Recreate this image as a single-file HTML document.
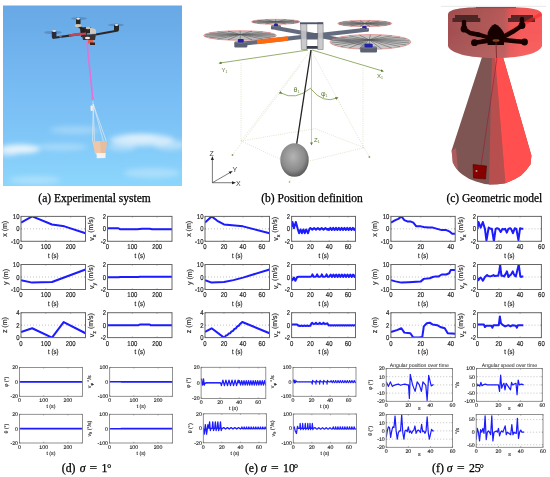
<!DOCTYPE html><html><head><meta charset="utf-8"><style>html,body{margin:0;padding:0;background:#fff;}svg{display:block} .tk{font-family:'Liberation Sans',Arial,sans-serif;fill:#222;stroke:#222;stroke-width:0.18px;text-rendering:geometricPrecision} .tk.s{stroke-width:0.12px} .cap{font-family:'Liberation Serif','Times New Roman',serif;fill:#000;stroke:#000;stroke-width:0.25px} .tt{font-family:'Liberation Sans',Arial,sans-serif;fill:#111;text-rendering:geometricPrecision}</style></head><body>
<svg width="550" height="477" viewBox="0 0 550 477">
<defs><filter id="gb" x="0" y="0" width="100%" height="100%"><feGaussianBlur stdDeviation="0.3"/></filter></defs>
<rect width="550" height="477" fill="#fff"/>
<g filter="url(#gb)">
<defs><linearGradient id="sky" x1="0" y1="0" x2="0" y2="1"><stop offset="0" stop-color="#68a8e6"/><stop offset="0.1" stop-color="#6aace8"/><stop offset="0.47" stop-color="#78bcf4"/><stop offset="0.63" stop-color="#7cc2f6"/><stop offset="0.85" stop-color="#86cefa"/><stop offset="1" stop-color="#8cd6fc"/></linearGradient><filter id="b2" x="-50%" y="-50%" width="200%" height="200%"><feGaussianBlur stdDeviation="2.5"/></filter><filter id="b1" x="-50%" y="-50%" width="200%" height="200%"><feGaussianBlur stdDeviation="0.6"/></filter><filter id="b05" x="-50%" y="-50%" width="200%" height="200%"><feGaussianBlur stdDeviation="0.35"/></filter><filter id="b4" x="-50%" y="-50%" width="200%" height="200%"><feGaussianBlur stdDeviation="4"/></filter><clipPath id="phc"><rect x="3" y="5.5" width="179" height="180.5"/></clipPath></defs>
<rect x="3" y="5.5" width="179" height="180.5" fill="url(#sky)"/>
<g clip-path="url(#phc)">
<g filter="url(#b2)" fill="#e8f4fc"><ellipse cx="20" cy="149" rx="20" ry="4.5" opacity="0.95"/><ellipse cx="22" cy="148" rx="12" ry="2.5" opacity="0.9"/><ellipse cx="8" cy="153" rx="10" ry="3" opacity="0.6"/><ellipse cx="62" cy="147" rx="26" ry="3.5" opacity="0.35"/><ellipse cx="142" cy="140" rx="32" ry="6" opacity="0.75"/><ellipse cx="140" cy="137" rx="18" ry="3" opacity="0.7"/><ellipse cx="170" cy="145" rx="16" ry="5" opacity="0.5"/><ellipse cx="122" cy="147" rx="14" ry="4" opacity="0.4"/><ellipse cx="75" cy="130" rx="25" ry="4" opacity="0.3"/><ellipse cx="35" cy="180" rx="26" ry="4" opacity="0.35"/><ellipse cx="152" cy="173" rx="28" ry="5" opacity="0.35"/></g>
<g filter="url(#b05)">
<line x1="86.8" y1="41" x2="92.6" y2="97" stroke="#e272d6" stroke-width="1.7"/>
<ellipse cx="92.6" cy="98.3" rx="1.5" ry="1.6" fill="#e878c8"/>
<rect x="90.6" y="105.5" width="2.2" height="5.5" rx="0.8" fill="#f4f2f0"/>
<path d="M92.8 101 L93.2 104 M93.2 104 L92.5 141.5 M93.2 104 L94.5 141.5 M93.2 104 L103.5 141.5 M93.2 104 L106.3 141.3" stroke="#f2f0ee" stroke-width="0.6" fill="none"/>
<path d="M92.3 141.3 L107 141 L105.6 154 L95.2 154 Z" fill="#efc6a8"/>
<path d="M100 141.2 L107 141 L105.6 154 L101 154 Z" fill="#e2b494" opacity="0.5"/>
<path d="M96.4 153 L105.6 153 L105.4 158 L96.8 158.3 Z" fill="#f6f2f2"/>
</g>
<g filter="url(#b05)">
<g filter="url(#b1)" fill="#3a5a80" opacity="0.35"><ellipse cx="53" cy="32.5" rx="9" ry="1.6"/><ellipse cx="79" cy="18.5" rx="8" ry="1.5"/><ellipse cx="116" cy="25" rx="8" ry="1.5"/></g>
<path d="M52.5 38 L80 34.2" stroke="#2e2828" stroke-width="2.2" fill="none"/>
<path d="M69 35.6 L81 33.6" stroke="#c84444" stroke-width="2" fill="none"/>
<path d="M96 34.5 L118 30.5" stroke="#2e2828" stroke-width="2.2" fill="none"/>
<path d="M78 26 L86 31" stroke="#2e2828" stroke-width="2.4" fill="none"/>
<rect x="51.8" y="31" width="4.6" height="7" rx="1" fill="#2c2c3c"/>
<ellipse cx="54.1" cy="31" rx="2" ry="1.1" fill="#dde0ea"/>
<circle cx="60.5" cy="36.6" r="1.2" fill="#6a7898"/>
<rect x="76" y="19" width="4.5" height="5.5" rx="1" fill="#262626"/>
<ellipse cx="78.2" cy="18.8" rx="1.7" ry="1" fill="#ececec"/>
<ellipse cx="78.2" cy="25.6" rx="3.3" ry="1.6" fill="#d8c6ae"/>
<rect x="114" y="25" width="5" height="6" rx="1" fill="#262626"/>
<ellipse cx="116.5" cy="25" rx="1.6" ry="1" fill="#e4e4ea"/>
<path d="M80 28 L86 27 L87 36 L81 37 Z" fill="#242020"/>
<path d="M84 28 L91 27.5 L91 33 L85 33.5 Z" fill="#2a2626"/>
<ellipse cx="88" cy="28" rx="2.4" ry="1.3" fill="#c8beb4"/>
<path d="M90 28 Q94 27.5 96 30 L96 33.5 L90 34 Z" fill="#cfc8c2"/>
<path d="M72 33.8 L86 32.4 L86 35.3 L72 36 Z" fill="#c84454"/>
<path d="M82 35 L96 34 L95 40 L83 40 Z" fill="#3a3030"/>
<ellipse cx="87.5" cy="38" rx="2.6" ry="1.2" fill="#eee8e0"/>
<path d="M87.9 40 L93.2 40 L93.2 43.5 L88 43.5 Z" fill="#e06050"/>
<path d="M90 42.5 L95 42.5 L95 45 L90 45 Z" fill="#3a2424"/>
</g>
</g>
<defs><radialGradient id="sph" cx="0.45" cy="0.4" r="0.6"><stop offset="0" stop-color="#b4b4b4"/><stop offset="0.7" stop-color="#8a8a8a"/><stop offset="1" stop-color="#5a5a5a"/></radialGradient><marker id="ag" markerWidth="3.2" markerHeight="3.2" refX="1.6" refY="1.6" orient="auto" markerUnits="userSpaceOnUse"><path d="M0 0.2 L3.2 1.6 L0 3 Z" fill="#5e7a34"/></marker><marker id="ak" markerWidth="4" markerHeight="4" refX="2" refY="2" orient="auto" markerUnits="userSpaceOnUse"><path d="M0 0.5 L4 2 L0 3.5 Z" fill="#222"/></marker></defs>
<path d="M241 63 L241 141 M363 68 L363 148 M311 50 L241 141 M311 50 L364 148 M300 66 L232.5 155 M241 141 L315 128.6 L364 147.7 M241 141 L293 165 L364 147.7 M364 147.7 L369.4 157 M292 176 L289.5 182" stroke="#ccd4b0" stroke-width="0.6" stroke-dasharray="1 1.2" fill="none"/>
<g fill="#8aa060"><circle cx="232.5" cy="155" r="0.9"/><circle cx="369.4" cy="157" r="0.9"/><circle cx="289.5" cy="182" r="0.8"/></g>
<line x1="308" y1="50" x2="220" y2="63" stroke="#7a9a48" stroke-width="0.8" fill="none" marker-end="url(#ag)"/>
<line x1="312" y1="50" x2="382.5" y2="71" stroke="#7a9a48" stroke-width="0.8" fill="none" marker-end="url(#ag)"/>
<line x1="311.5" y1="50" x2="311.5" y2="144" stroke="#a8b888" stroke-width="0.7" marker-end="url(#ag)"/>
<path d="M281 93 Q295 101 311 88" stroke="#7a9a48" stroke-width="0.8" fill="none" marker-start="url(#ag)"/>
<path d="M311 89 Q323 104 337 98" stroke="#7a9a48" stroke-width="0.8" fill="none" marker-end="url(#ag)"/>
<text x="221.5" y="71.5" font-size="6" fill="#5e7a34" font-family="'Liberation Sans', sans-serif">Y<tspan font-size="3.5" dy="1">1</tspan></text>
<text x="377" y="78" font-size="6" fill="#5e7a34" font-family="'Liberation Sans', sans-serif">X<tspan font-size="3.5" dy="1">1</tspan></text>
<text x="314" y="142" font-size="6" fill="#5e7a34" font-family="'Liberation Sans', sans-serif">Z<tspan font-size="3.5" dy="1">1</tspan></text>
<text x="293.5" y="91.5" font-size="7" fill="#5e7a34" font-family="'Liberation Sans', sans-serif">θ<tspan font-size="3.5" dy="1">1</tspan></text>
<text x="321" y="95.5" font-size="7" fill="#5e7a34" font-family="'Liberation Sans', sans-serif">φ<tspan font-size="3.5" dy="1">1</tspan></text>
<ellipse cx="275.7" cy="21.8" rx="24.2" ry="2.5" fill="#b0b0b0" fill-opacity="0.92" stroke="#e06060" stroke-width="0.5"/>
<path d="M275.7 21.8 L298.59 22.34 M275.7 21.8 L294.05 23.31 M275.7 21.8 L285.88 23.98 M275.7 21.8 L275.7 24.23 M275.7 21.8 L265.52 23.98 M275.7 21.8 L257.35 23.31 M275.7 21.8 L252.81 22.34 M275.7 21.8 L252.81 21.26 M275.7 21.8 L257.35 20.29 M275.7 21.8 L265.52 19.62 M275.7 21.8 L275.7 19.38 M275.7 21.8 L285.88 19.62 M275.7 21.8 L294.05 20.29 M275.7 21.8 L298.59 21.26" stroke="#333" stroke-width="0.55" opacity="0.75"/>
<ellipse cx="364.8" cy="23.5" rx="26.9" ry="3.1" fill="#b0b0b0" fill-opacity="0.92" stroke="#e06060" stroke-width="0.5"/>
<path d="M364.8 23.5 L390.39 24.09 M364.8 23.5 L386.5 25.17 M364.8 23.5 L379.3 26 M364.8 23.5 L369.89 26.45 M364.8 23.5 L359.71 26.45 M364.8 23.5 L350.3 26 M364.8 23.5 L343.1 25.17 M364.8 23.5 L339.21 24.09 M364.8 23.5 L339.21 22.91 M364.8 23.5 L343.1 21.83 M364.8 23.5 L350.3 21 M364.8 23.5 L359.71 20.55 M364.8 23.5 L369.89 20.55 M364.8 23.5 L379.3 21 M364.8 23.5 L386.5 21.83 M364.8 23.5 L390.39 22.91" stroke="#333" stroke-width="0.55" opacity="0.75"/>
<rect x="271" y="25.6" width="10" height="3.8" rx="1.2" fill="#5c6272"/>
<ellipse cx="276" cy="26.2" rx="5" ry="1.1" fill="#767c8c"/>
<rect x="274" y="23.4" width="4" height="3" rx="1" fill="#2424a8"/>
<rect x="359.9" y="28.3" width="9" height="3.5" rx="1.2" fill="#5c6272"/>
<ellipse cx="364.4" cy="28.9" rx="4.5" ry="1.1" fill="#767c8c"/>
<rect x="362.15" y="26.1" width="4.5" height="3" rx="1" fill="#2424a8"/>
<path d="M276 28 L369 45" stroke="#646c7e" stroke-width="4.0" stroke-linecap="round"/>
<path d="M241 43.8 L364 30" stroke="#646c7e" stroke-width="4.2" stroke-linecap="round"/>
<path d="M257 42 L288 38.5" stroke="#ff6a10" stroke-width="4.6"/>
<path d="M300.5 23.5 L306.8 23.5 L306.8 49.5 L301.4 49.5 Z M317.7 22.5 L323.2 22.5 L323.2 49.5 L317.7 49.5 Z" fill="#c4c4c8" fill-opacity="0.9" stroke="#6a6a70" stroke-width="0.5"/>
<path d="M300 22.3 L323 22.3 L323 24.2 L300 24.2 Z" fill="#50566a"/>
<path d="M306.8 33 L317.7 33 L317.7 39.5 L306.8 39.5 Z" fill="#5a6274"/>
<path d="M306.8 46 L317.7 46 L317.7 48.8 L306.8 48.8 Z" fill="#3a4050"/>
<ellipse cx="240" cy="35.5" rx="36.4" ry="4.8" fill="#b0b0b0" fill-opacity="0.85" stroke="#e06060" stroke-width="0.5"/>
<path d="M240.5 34.5 L274.77 36.31 M240.5 34.5 L270.58 37.83 M240.5 34.5 L262.7 39.07 M240.5 34.5 L252.08 39.88 M240.5 34.5 L240 40.16 M240.5 34.5 L227.92 39.88 M240.5 34.5 L217.3 39.07 M240.5 34.5 L209.42 37.83 M240.5 34.5 L205.23 36.31 M240.5 34.5 L205.23 34.69 M240.5 34.5 L209.42 33.17 M240.5 34.5 L217.3 31.93 M240.5 34.5 L227.92 31.12 M240.5 34.5 L240 30.84 M240.5 34.5 L252.08 31.12 M240.5 34.5 L262.7 31.93 M240.5 34.5 L270.58 33.17 M240.5 34.5 L274.77 34.69" stroke="#333" stroke-width="0.55" opacity="0.75"/>
<ellipse cx="370.4" cy="41.9" rx="40.5" ry="7.4" fill="#b0b0b0" fill-opacity="0.72" stroke="#e06060" stroke-width="0.5"/>
<path d="M369.2 39.8 L409.29 42.92 M369.2 39.8 L406.13 44.88 M369.2 39.8 L400.09 46.6 M369.2 39.8 L391.64 47.94 M369.2 39.8 L381.47 48.79 M369.2 39.8 L370.4 49.08 M369.2 39.8 L359.33 48.79 M369.2 39.8 L349.16 47.94 M369.2 39.8 L340.71 46.6 M369.2 39.8 L334.67 44.88 M369.2 39.8 L331.51 42.92 M369.2 39.8 L331.51 40.88 M369.2 39.8 L334.67 38.92 M369.2 39.8 L340.71 37.2 M369.2 39.8 L349.16 35.86 M369.2 39.8 L359.33 35.01 M369.2 39.8 L370.4 34.72 M369.2 39.8 L381.47 35.01 M369.2 39.8 L391.64 35.86 M369.2 39.8 L400.09 37.2 M369.2 39.8 L406.13 38.92 M369.2 39.8 L409.29 40.88" stroke="#333" stroke-width="0.55" opacity="0.75"/>
<rect x="234.3" y="41.7" width="13" height="5.8" rx="1.2" fill="#5c6272"/>
<ellipse cx="240.8" cy="42.3" rx="6.5" ry="1.1" fill="#767c8c"/>
<rect x="237.8" y="39" width="6" height="3.5" rx="1" fill="#2424a8"/>
<rect x="360.2" y="46.8" width="16.8" height="5.7" rx="1.2" fill="#5c6272"/>
<ellipse cx="368.6" cy="47.4" rx="8.4" ry="1.1" fill="#767c8c"/>
<rect x="364.45" y="43.8" width="8.3" height="3.8" rx="1" fill="#2424a8"/>
<line x1="311" y1="50" x2="296.5" y2="145" stroke="#222" stroke-width="1.3"/>
<ellipse cx="294.5" cy="160" rx="14.2" ry="16.8" fill="url(#sph)"/>
<line x1="212.4" y1="182.7" x2="212.4" y2="158" stroke="#222" stroke-width="0.6" marker-end="url(#ak)"/>
<line x1="212.4" y1="182.7" x2="234" y2="182.7" stroke="#222" stroke-width="0.6" marker-end="url(#ak)"/>
<line x1="212.4" y1="182.7" x2="231" y2="172" stroke="#222" stroke-width="0.6" marker-end="url(#ak)"/>
<text x="209.5" y="155.5" font-size="7" fill="#444" font-family="'Liberation Sans', sans-serif">Z</text><text x="236" y="185.5" font-size="7" fill="#444" font-family="'Liberation Sans', sans-serif">X</text><text x="232.5" y="172" font-size="7" fill="#444" font-family="'Liberation Sans', sans-serif">Y</text>
<defs><linearGradient id="cyl" x1="448" y1="0" x2="542" y2="0" gradientUnits="userSpaceOnUse"><stop offset="0" stop-color="#a44e50"/><stop offset="0.23" stop-color="#a85454"/><stop offset="0.45" stop-color="#b25858"/><stop offset="0.6" stop-color="#bc5a5a"/><stop offset="0.66" stop-color="#e45656"/><stop offset="0.78" stop-color="#f65a5a"/><stop offset="1" stop-color="#f85a5a"/></linearGradient><linearGradient id="cylv" x1="0" y1="7" x2="0" y2="58" gradientUnits="userSpaceOnUse"><stop offset="0" stop-color="#000" stop-opacity="0.03"/><stop offset="0.5" stop-color="#fff" stop-opacity="0"/><stop offset="1" stop-color="#fff" stop-opacity="0.06"/></linearGradient></defs>
<line x1="441" y1="6.3" x2="546" y2="6.3" stroke="#e8e8e8" stroke-width="1"/>
<path d="M482 57 L451.6 150.4 L452.8 162.5 Q456 170 462.3 174.5 Q468 179 476 181.5 Q483 184 490 184.6 Q498 184.5 505.4 183.2 Q514 180 521 175.4 Q527 170 530.5 164.2 L531.4 155.5 L503 57 Z" fill="#7e5552"/>
<path d="M492 57 L489 184.6 Q498 184.5 505.4 183.2 L495 57 Z" fill="#b85050"/>
<path d="M495 57 L505.4 183.2 Q514 180 521 175.4 Q527 170 530.5 164.2 L531.4 155.5 L503 57 Z" fill="#ff5050"/>
<path d="M451.6 150.4 L452.8 162.5 Q455 167 458 170 L456 148 Z" fill="#c06060" opacity="0.7"/>
<line x1="497" y1="58" x2="481" y2="166" stroke="#a01838" stroke-width="0.6"/>
<path d="M473 164.5 L486.5 166 L485.5 179 L473.5 178 Z" fill="#860404" stroke="#5a0000" stroke-width="0.6"/>
<circle cx="476.5" cy="171" r="1" fill="#b0a0a0"/>
<path d="M448 14 C449 9, 462 7.5, 478 7.2 L514 7.2 C530 7.5, 541 9, 542 14 L542 46 C540 53, 522 58, 495 58 C468 58, 450 53, 448 46 Z" fill="url(#cyl)"/>
<path d="M448 14 C449 9, 462 7.5, 478 7.2 L514 7.2 C530 7.5, 541 9, 542 14 L542 46 C540 53, 522 58, 495 58 C468 58, 450 53, 448 46 Z" fill="url(#cylv)"/>
<path d="M476 7.6 L516 7.6" stroke="#a02828" stroke-width="1" opacity="0.8"/>
<g filter="url(#b05)">
<path d="M455 15 L478 15 L478 18 L480.3 18 L480.3 22 L452.5 22 L452.5 18 L455 18 Z" fill="#3e1c1c" opacity="0.85"/>
<path d="M511 15 L533 15 L533 18 L535 18 L535 22 L508 22 L508 18 L511 18 Z" fill="#3e1c1c" opacity="0.85"/>
<path d="M503 36 L541 14" stroke="#ff2020" stroke-width="3.5" opacity="0.55"/>
<g stroke="#1a0505" stroke-width="4.4" fill="none" stroke-linecap="round" stroke-linejoin="round"><path d="M464 29 L470 33 L480 35 L490 38 M474.5 42.7 L490 40.5 M522 25.5 L514 31 L505 36 M524.5 42 L514 41 L504 40 M464 22 L464 28 M522 19 L522 25"/></g>
<g fill="#140404"><path d="M487.6 45 L487.6 33 Q490 26 495 24 Q500 26 504 33 L504 45 Z"/><circle cx="464" cy="29" r="3.4"/><circle cx="522" cy="25.5" r="3.4"/><circle cx="474.5" cy="42.7" r="3.4"/><circle cx="524.5" cy="42" r="3.4"/><circle cx="478" cy="34.5" r="2.2"/><circle cx="512" cy="32" r="2"/><circle cx="483" cy="41" r="2"/><circle cx="514" cy="41" r="2"/></g>
<ellipse cx="496" cy="40.5" rx="3.5" ry="1.2" fill="#a06030" opacity="0.8"/>
</g>
<line x1="496" y1="40" x2="496.5" y2="58" stroke="#7a2020" stroke-width="0.8"/>
<line x1="21" y1="228.85" x2="85.5" y2="228.85" stroke="#aaa" stroke-width="0.7" stroke-dasharray="1 2"/>
<clipPath id="c111"><rect x="21" y="216.4" width="64.5" height="24.9"/></clipPath>
<polyline clip-path="url(#c111)" points="21,222.62 32.16,216.4 52.01,224.49 64.41,226.36 85.5,233.21" fill="none" stroke="#1a1aff" stroke-width="2.0" stroke-linejoin="round"/>
<rect x="21" y="216.4" width="64.5" height="24.9" fill="none" stroke="#666" stroke-width="1"/>
<line x1="21" y1="241.3" x2="21" y2="240.1" stroke="#666" stroke-width="0.5"/>
<line x1="21" y1="216.4" x2="21" y2="217.6" stroke="#666" stroke-width="0.5"/>
<text x="21" y="249.25" font-size="7" text-anchor="middle" class="tk" transform="translate(21 249.25) scale(0.85 1) translate(-21 -249.25)">0</text>
<line x1="45.81" y1="241.3" x2="45.81" y2="240.1" stroke="#666" stroke-width="0.5"/>
<line x1="45.81" y1="216.4" x2="45.81" y2="217.6" stroke="#666" stroke-width="0.5"/>
<text x="45.81" y="249.25" font-size="7" text-anchor="middle" class="tk" transform="translate(45.81 249.25) scale(0.85 1) translate(-45.81 -249.25)">100</text>
<line x1="70.62" y1="241.3" x2="70.62" y2="240.1" stroke="#666" stroke-width="0.5"/>
<line x1="70.62" y1="216.4" x2="70.62" y2="217.6" stroke="#666" stroke-width="0.5"/>
<text x="70.62" y="249.25" font-size="7" text-anchor="middle" class="tk" transform="translate(70.62 249.25) scale(0.85 1) translate(-70.62 -249.25)">200</text>
<line x1="21" y1="241.3" x2="22.2" y2="241.3" stroke="#666" stroke-width="0.5"/>
<line x1="85.5" y1="241.3" x2="84.3" y2="241.3" stroke="#666" stroke-width="0.5"/>
<text x="19.5" y="243.82" font-size="7" text-anchor="end" class="tk" transform="translate(19.5 243.82) scale(0.85 1) translate(-19.5 -243.82)">-10</text>
<line x1="21" y1="228.85" x2="22.2" y2="228.85" stroke="#666" stroke-width="0.5"/>
<line x1="85.5" y1="228.85" x2="84.3" y2="228.85" stroke="#666" stroke-width="0.5"/>
<text x="19.5" y="231.37" font-size="7" text-anchor="end" class="tk" transform="translate(19.5 231.37) scale(0.85 1) translate(-19.5 -231.37)">0</text>
<line x1="21" y1="216.4" x2="22.2" y2="216.4" stroke="#666" stroke-width="0.5"/>
<line x1="85.5" y1="216.4" x2="84.3" y2="216.4" stroke="#666" stroke-width="0.5"/>
<text x="19.5" y="218.92" font-size="7" text-anchor="end" class="tk" transform="translate(19.5 218.92) scale(0.85 1) translate(-19.5 -218.92)">10</text>
<text x="53.25" y="257.85" font-size="7" text-anchor="middle" class="tk" transform="translate(53.25 257.85) scale(0.85 1) translate(-53.25 -257.85)">t (s)</text>
<text x="7.5" y="228.85" font-size="7" text-anchor="middle" class="tk" transform="rotate(-90 7.5 228.85)">x (m)</text>
<line x1="107.5" y1="228.85" x2="172" y2="228.85" stroke="#aaa" stroke-width="0.7" stroke-dasharray="1 2"/>
<clipPath id="c135"><rect x="107.5" y="216.4" width="64.5" height="24.9"/></clipPath>
<polyline clip-path="url(#c135)" points="107.5,228.23 118.42,228.23 119.9,229.16 137.27,229.16 142.23,228.85 149.67,228.85 152.15,229.16 172,229.16" fill="none" stroke="#1a1aff" stroke-width="2.0" stroke-linejoin="round"/>
<rect x="107.5" y="216.4" width="64.5" height="24.9" fill="none" stroke="#666" stroke-width="1"/>
<line x1="107.5" y1="241.3" x2="107.5" y2="240.1" stroke="#666" stroke-width="0.5"/>
<line x1="107.5" y1="216.4" x2="107.5" y2="217.6" stroke="#666" stroke-width="0.5"/>
<text x="107.5" y="249.25" font-size="7" text-anchor="middle" class="tk" transform="translate(107.5 249.25) scale(0.85 1) translate(-107.5 -249.25)">0</text>
<line x1="132.31" y1="241.3" x2="132.31" y2="240.1" stroke="#666" stroke-width="0.5"/>
<line x1="132.31" y1="216.4" x2="132.31" y2="217.6" stroke="#666" stroke-width="0.5"/>
<text x="132.31" y="249.25" font-size="7" text-anchor="middle" class="tk" transform="translate(132.31 249.25) scale(0.85 1) translate(-132.31 -249.25)">100</text>
<line x1="157.12" y1="241.3" x2="157.12" y2="240.1" stroke="#666" stroke-width="0.5"/>
<line x1="157.12" y1="216.4" x2="157.12" y2="217.6" stroke="#666" stroke-width="0.5"/>
<text x="157.12" y="249.25" font-size="7" text-anchor="middle" class="tk" transform="translate(157.12 249.25) scale(0.85 1) translate(-157.12 -249.25)">200</text>
<line x1="107.5" y1="241.3" x2="108.7" y2="241.3" stroke="#666" stroke-width="0.5"/>
<line x1="172" y1="241.3" x2="170.8" y2="241.3" stroke="#666" stroke-width="0.5"/>
<text x="106" y="243.82" font-size="7" text-anchor="end" class="tk" transform="translate(106 243.82) scale(0.85 1) translate(-106 -243.82)">-2</text>
<line x1="107.5" y1="228.85" x2="108.7" y2="228.85" stroke="#666" stroke-width="0.5"/>
<line x1="172" y1="228.85" x2="170.8" y2="228.85" stroke="#666" stroke-width="0.5"/>
<text x="106" y="231.37" font-size="7" text-anchor="end" class="tk" transform="translate(106 231.37) scale(0.85 1) translate(-106 -231.37)">0</text>
<line x1="107.5" y1="216.4" x2="108.7" y2="216.4" stroke="#666" stroke-width="0.5"/>
<line x1="172" y1="216.4" x2="170.8" y2="216.4" stroke="#666" stroke-width="0.5"/>
<text x="106" y="218.92" font-size="7" text-anchor="end" class="tk" transform="translate(106 218.92) scale(0.85 1) translate(-106 -218.92)">2</text>
<text x="139.75" y="257.85" font-size="7" text-anchor="middle" class="tk" transform="translate(139.75 257.85) scale(0.85 1) translate(-139.75 -257.85)">t (s)</text>
<text x="94" y="228.85" font-size="7" text-anchor="middle" class="tk" transform="rotate(-90 94 228.85)">v<tspan font-size="0.75em" dy="0.35em">x</tspan><tspan dy="-0.35em"> (m/s)</tspan></text>
<line x1="21" y1="277" x2="85.5" y2="277" stroke="#aaa" stroke-width="0.7" stroke-dasharray="1 2"/>
<clipPath id="c159"><rect x="21" y="264.5" width="64.5" height="25"/></clipPath>
<polyline clip-path="url(#c159)" points="21,280.12 32.16,282.62 52.01,282 85.5,269.5" fill="none" stroke="#1a1aff" stroke-width="2.0" stroke-linejoin="round"/>
<rect x="21" y="264.5" width="64.5" height="25" fill="none" stroke="#666" stroke-width="1"/>
<line x1="21" y1="289.5" x2="21" y2="288.3" stroke="#666" stroke-width="0.5"/>
<line x1="21" y1="264.5" x2="21" y2="265.7" stroke="#666" stroke-width="0.5"/>
<text x="21" y="297.45" font-size="7" text-anchor="middle" class="tk" transform="translate(21 297.45) scale(0.85 1) translate(-21 -297.45)">0</text>
<line x1="45.81" y1="289.5" x2="45.81" y2="288.3" stroke="#666" stroke-width="0.5"/>
<line x1="45.81" y1="264.5" x2="45.81" y2="265.7" stroke="#666" stroke-width="0.5"/>
<text x="45.81" y="297.45" font-size="7" text-anchor="middle" class="tk" transform="translate(45.81 297.45) scale(0.85 1) translate(-45.81 -297.45)">100</text>
<line x1="70.62" y1="289.5" x2="70.62" y2="288.3" stroke="#666" stroke-width="0.5"/>
<line x1="70.62" y1="264.5" x2="70.62" y2="265.7" stroke="#666" stroke-width="0.5"/>
<text x="70.62" y="297.45" font-size="7" text-anchor="middle" class="tk" transform="translate(70.62 297.45) scale(0.85 1) translate(-70.62 -297.45)">200</text>
<line x1="21" y1="289.5" x2="22.2" y2="289.5" stroke="#666" stroke-width="0.5"/>
<line x1="85.5" y1="289.5" x2="84.3" y2="289.5" stroke="#666" stroke-width="0.5"/>
<text x="19.5" y="292.02" font-size="7" text-anchor="end" class="tk" transform="translate(19.5 292.02) scale(0.85 1) translate(-19.5 -292.02)">-10</text>
<line x1="21" y1="277" x2="22.2" y2="277" stroke="#666" stroke-width="0.5"/>
<line x1="85.5" y1="277" x2="84.3" y2="277" stroke="#666" stroke-width="0.5"/>
<text x="19.5" y="279.52" font-size="7" text-anchor="end" class="tk" transform="translate(19.5 279.52) scale(0.85 1) translate(-19.5 -279.52)">0</text>
<line x1="21" y1="264.5" x2="22.2" y2="264.5" stroke="#666" stroke-width="0.5"/>
<line x1="85.5" y1="264.5" x2="84.3" y2="264.5" stroke="#666" stroke-width="0.5"/>
<text x="19.5" y="267.02" font-size="7" text-anchor="end" class="tk" transform="translate(19.5 267.02) scale(0.85 1) translate(-19.5 -267.02)">10</text>
<text x="53.25" y="306.05" font-size="7" text-anchor="middle" class="tk" transform="translate(53.25 306.05) scale(0.85 1) translate(-53.25 -306.05)">t (s)</text>
<text x="7.5" y="277" font-size="7" text-anchor="middle" class="tk" transform="rotate(-90 7.5 277)">y (m)</text>
<line x1="107.5" y1="277" x2="172" y2="277" stroke="#aaa" stroke-width="0.7" stroke-dasharray="1 2"/>
<clipPath id="c183"><rect x="107.5" y="264.5" width="64.5" height="25"/></clipPath>
<polyline clip-path="url(#c183)" points="107.5,277.31 118.66,277.31 119.9,277 138.51,277 139.75,276.69 172,276.69" fill="none" stroke="#1a1aff" stroke-width="2.0" stroke-linejoin="round"/>
<rect x="107.5" y="264.5" width="64.5" height="25" fill="none" stroke="#666" stroke-width="1"/>
<line x1="107.5" y1="289.5" x2="107.5" y2="288.3" stroke="#666" stroke-width="0.5"/>
<line x1="107.5" y1="264.5" x2="107.5" y2="265.7" stroke="#666" stroke-width="0.5"/>
<text x="107.5" y="297.45" font-size="7" text-anchor="middle" class="tk" transform="translate(107.5 297.45) scale(0.85 1) translate(-107.5 -297.45)">0</text>
<line x1="132.31" y1="289.5" x2="132.31" y2="288.3" stroke="#666" stroke-width="0.5"/>
<line x1="132.31" y1="264.5" x2="132.31" y2="265.7" stroke="#666" stroke-width="0.5"/>
<text x="132.31" y="297.45" font-size="7" text-anchor="middle" class="tk" transform="translate(132.31 297.45) scale(0.85 1) translate(-132.31 -297.45)">100</text>
<line x1="157.12" y1="289.5" x2="157.12" y2="288.3" stroke="#666" stroke-width="0.5"/>
<line x1="157.12" y1="264.5" x2="157.12" y2="265.7" stroke="#666" stroke-width="0.5"/>
<text x="157.12" y="297.45" font-size="7" text-anchor="middle" class="tk" transform="translate(157.12 297.45) scale(0.85 1) translate(-157.12 -297.45)">200</text>
<line x1="107.5" y1="289.5" x2="108.7" y2="289.5" stroke="#666" stroke-width="0.5"/>
<line x1="172" y1="289.5" x2="170.8" y2="289.5" stroke="#666" stroke-width="0.5"/>
<text x="106" y="292.02" font-size="7" text-anchor="end" class="tk" transform="translate(106 292.02) scale(0.85 1) translate(-106 -292.02)">-2</text>
<line x1="107.5" y1="277" x2="108.7" y2="277" stroke="#666" stroke-width="0.5"/>
<line x1="172" y1="277" x2="170.8" y2="277" stroke="#666" stroke-width="0.5"/>
<text x="106" y="279.52" font-size="7" text-anchor="end" class="tk" transform="translate(106 279.52) scale(0.85 1) translate(-106 -279.52)">0</text>
<line x1="107.5" y1="264.5" x2="108.7" y2="264.5" stroke="#666" stroke-width="0.5"/>
<line x1="172" y1="264.5" x2="170.8" y2="264.5" stroke="#666" stroke-width="0.5"/>
<text x="106" y="267.02" font-size="7" text-anchor="end" class="tk" transform="translate(106 267.02) scale(0.85 1) translate(-106 -267.02)">2</text>
<text x="139.75" y="306.05" font-size="7" text-anchor="middle" class="tk" transform="translate(139.75 306.05) scale(0.85 1) translate(-139.75 -306.05)">t (s)</text>
<text x="94" y="277" font-size="7" text-anchor="middle" class="tk" transform="rotate(-90 94 277)">v<tspan font-size="0.75em" dy="0.35em">y</tspan><tspan dy="-0.35em"> (m/s)</tspan></text>
<line x1="21" y1="325.15" x2="85.5" y2="325.15" stroke="#aaa" stroke-width="0.7" stroke-dasharray="1 2"/>
<clipPath id="c207"><rect x="21" y="312.7" width="64.5" height="24.9"/></clipPath>
<polyline clip-path="url(#c207)" points="21,332 32.16,328.26 52.01,337.6 63.67,322.04 85.5,333.24" fill="none" stroke="#1a1aff" stroke-width="2.0" stroke-linejoin="round"/>
<rect x="21" y="312.7" width="64.5" height="24.9" fill="none" stroke="#666" stroke-width="1"/>
<line x1="21" y1="337.6" x2="21" y2="336.4" stroke="#666" stroke-width="0.5"/>
<line x1="21" y1="312.7" x2="21" y2="313.9" stroke="#666" stroke-width="0.5"/>
<text x="21" y="345.55" font-size="7" text-anchor="middle" class="tk" transform="translate(21 345.55) scale(0.85 1) translate(-21 -345.55)">0</text>
<line x1="45.81" y1="337.6" x2="45.81" y2="336.4" stroke="#666" stroke-width="0.5"/>
<line x1="45.81" y1="312.7" x2="45.81" y2="313.9" stroke="#666" stroke-width="0.5"/>
<text x="45.81" y="345.55" font-size="7" text-anchor="middle" class="tk" transform="translate(45.81 345.55) scale(0.85 1) translate(-45.81 -345.55)">100</text>
<line x1="70.62" y1="337.6" x2="70.62" y2="336.4" stroke="#666" stroke-width="0.5"/>
<line x1="70.62" y1="312.7" x2="70.62" y2="313.9" stroke="#666" stroke-width="0.5"/>
<text x="70.62" y="345.55" font-size="7" text-anchor="middle" class="tk" transform="translate(70.62 345.55) scale(0.85 1) translate(-70.62 -345.55)">200</text>
<line x1="21" y1="337.6" x2="22.2" y2="337.6" stroke="#666" stroke-width="0.5"/>
<line x1="85.5" y1="337.6" x2="84.3" y2="337.6" stroke="#666" stroke-width="0.5"/>
<text x="19.5" y="340.12" font-size="7" text-anchor="end" class="tk" transform="translate(19.5 340.12) scale(0.85 1) translate(-19.5 -340.12)">0</text>
<line x1="21" y1="325.15" x2="22.2" y2="325.15" stroke="#666" stroke-width="0.5"/>
<line x1="85.5" y1="325.15" x2="84.3" y2="325.15" stroke="#666" stroke-width="0.5"/>
<text x="19.5" y="327.67" font-size="7" text-anchor="end" class="tk" transform="translate(19.5 327.67) scale(0.85 1) translate(-19.5 -327.67)">2</text>
<line x1="21" y1="312.7" x2="22.2" y2="312.7" stroke="#666" stroke-width="0.5"/>
<line x1="85.5" y1="312.7" x2="84.3" y2="312.7" stroke="#666" stroke-width="0.5"/>
<text x="19.5" y="315.22" font-size="7" text-anchor="end" class="tk" transform="translate(19.5 315.22) scale(0.85 1) translate(-19.5 -315.22)">4</text>
<text x="53.25" y="354.15" font-size="7" text-anchor="middle" class="tk" transform="translate(53.25 354.15) scale(0.85 1) translate(-53.25 -354.15)">t (s)</text>
<text x="7.5" y="325.15" font-size="7" text-anchor="middle" class="tk" transform="rotate(-90 7.5 325.15)">z (m)</text>
<line x1="107.5" y1="325.15" x2="172" y2="325.15" stroke="#aaa" stroke-width="0.7" stroke-dasharray="1 2"/>
<clipPath id="c231"><rect x="107.5" y="312.7" width="64.5" height="24.9"/></clipPath>
<polyline clip-path="url(#c231)" points="107.5,325.15 138.51,325.15 139.75,324.53 149.67,324.53 150.91,325.34 172,325.34" fill="none" stroke="#1a1aff" stroke-width="2.0" stroke-linejoin="round"/>
<rect x="107.5" y="312.7" width="64.5" height="24.9" fill="none" stroke="#666" stroke-width="1"/>
<line x1="107.5" y1="337.6" x2="107.5" y2="336.4" stroke="#666" stroke-width="0.5"/>
<line x1="107.5" y1="312.7" x2="107.5" y2="313.9" stroke="#666" stroke-width="0.5"/>
<text x="107.5" y="345.55" font-size="7" text-anchor="middle" class="tk" transform="translate(107.5 345.55) scale(0.85 1) translate(-107.5 -345.55)">0</text>
<line x1="132.31" y1="337.6" x2="132.31" y2="336.4" stroke="#666" stroke-width="0.5"/>
<line x1="132.31" y1="312.7" x2="132.31" y2="313.9" stroke="#666" stroke-width="0.5"/>
<text x="132.31" y="345.55" font-size="7" text-anchor="middle" class="tk" transform="translate(132.31 345.55) scale(0.85 1) translate(-132.31 -345.55)">100</text>
<line x1="157.12" y1="337.6" x2="157.12" y2="336.4" stroke="#666" stroke-width="0.5"/>
<line x1="157.12" y1="312.7" x2="157.12" y2="313.9" stroke="#666" stroke-width="0.5"/>
<text x="157.12" y="345.55" font-size="7" text-anchor="middle" class="tk" transform="translate(157.12 345.55) scale(0.85 1) translate(-157.12 -345.55)">200</text>
<line x1="107.5" y1="337.6" x2="108.7" y2="337.6" stroke="#666" stroke-width="0.5"/>
<line x1="172" y1="337.6" x2="170.8" y2="337.6" stroke="#666" stroke-width="0.5"/>
<text x="106" y="340.12" font-size="7" text-anchor="end" class="tk" transform="translate(106 340.12) scale(0.85 1) translate(-106 -340.12)">-2</text>
<line x1="107.5" y1="325.15" x2="108.7" y2="325.15" stroke="#666" stroke-width="0.5"/>
<line x1="172" y1="325.15" x2="170.8" y2="325.15" stroke="#666" stroke-width="0.5"/>
<text x="106" y="327.67" font-size="7" text-anchor="end" class="tk" transform="translate(106 327.67) scale(0.85 1) translate(-106 -327.67)">0</text>
<line x1="107.5" y1="312.7" x2="108.7" y2="312.7" stroke="#666" stroke-width="0.5"/>
<line x1="172" y1="312.7" x2="170.8" y2="312.7" stroke="#666" stroke-width="0.5"/>
<text x="106" y="315.22" font-size="7" text-anchor="end" class="tk" transform="translate(106 315.22) scale(0.85 1) translate(-106 -315.22)">2</text>
<text x="139.75" y="354.15" font-size="7" text-anchor="middle" class="tk" transform="translate(139.75 354.15) scale(0.85 1) translate(-139.75 -354.15)">t (s)</text>
<text x="94" y="325.15" font-size="7" text-anchor="middle" class="tk" transform="rotate(-90 94 325.15)">v<tspan font-size="0.75em" dy="0.35em">z</tspan><tspan dy="-0.35em"> (m/s)</tspan></text>
<line x1="19.5" y1="381.85" x2="82.4" y2="381.85" stroke="#aaa" stroke-width="0.7" stroke-dasharray="1 2"/>
<clipPath id="c255"><rect x="19.5" y="367.4" width="62.9" height="28.9"/></clipPath>
<polyline clip-path="url(#c255)" points="19.5,381.85 82.4,381.85" fill="none" stroke="#1a1aff" stroke-width="1.6" stroke-linejoin="round"/>
<rect x="19.5" y="367.4" width="62.9" height="28.9" fill="none" stroke="#777" stroke-width="0.8"/>
<line x1="19.5" y1="396.3" x2="19.5" y2="395.1" stroke="#666" stroke-width="0.5"/>
<line x1="19.5" y1="367.4" x2="19.5" y2="368.6" stroke="#666" stroke-width="0.5"/>
<text x="19.5" y="402.04" font-size="5.2" text-anchor="middle" class="tk s">0</text>
<line x1="43.69" y1="396.3" x2="43.69" y2="395.1" stroke="#666" stroke-width="0.5"/>
<line x1="43.69" y1="367.4" x2="43.69" y2="368.6" stroke="#666" stroke-width="0.5"/>
<text x="43.69" y="402.04" font-size="5.2" text-anchor="middle" class="tk s">100</text>
<line x1="67.88" y1="396.3" x2="67.88" y2="395.1" stroke="#666" stroke-width="0.5"/>
<line x1="67.88" y1="367.4" x2="67.88" y2="368.6" stroke="#666" stroke-width="0.5"/>
<text x="67.88" y="402.04" font-size="5.2" text-anchor="middle" class="tk s">200</text>
<line x1="19.5" y1="396.3" x2="20.7" y2="396.3" stroke="#666" stroke-width="0.5"/>
<line x1="82.4" y1="396.3" x2="81.2" y2="396.3" stroke="#666" stroke-width="0.5"/>
<text x="18" y="398.17" font-size="5.2" text-anchor="end" class="tk s">-20</text>
<line x1="19.5" y1="381.85" x2="20.7" y2="381.85" stroke="#666" stroke-width="0.5"/>
<line x1="82.4" y1="381.85" x2="81.2" y2="381.85" stroke="#666" stroke-width="0.5"/>
<text x="18" y="383.72" font-size="5.2" text-anchor="end" class="tk s">0</text>
<line x1="19.5" y1="367.4" x2="20.7" y2="367.4" stroke="#666" stroke-width="0.5"/>
<line x1="82.4" y1="367.4" x2="81.2" y2="367.4" stroke="#666" stroke-width="0.5"/>
<text x="18" y="369.27" font-size="5.2" text-anchor="end" class="tk s">20</text>
<text x="50.95" y="408.1" font-size="5.2" text-anchor="middle" class="tk s">t (s)</text>
<text x="8.5" y="381.85" font-size="5.2" text-anchor="middle" class="tk s" transform="rotate(-90 8.5 381.85)">φ (°)</text>
<line x1="109.7" y1="381.85" x2="172.6" y2="381.85" stroke="#aaa" stroke-width="0.7" stroke-dasharray="1 2"/>
<clipPath id="c279"><rect x="109.7" y="367.4" width="62.9" height="28.9"/></clipPath>
<polyline clip-path="url(#c279)" points="109.7,381.78 120.59,381.78 121.8,381.85 172.6,381.85" fill="none" stroke="#1a1aff" stroke-width="1.6" stroke-linejoin="round"/>
<rect x="109.7" y="367.4" width="62.9" height="28.9" fill="none" stroke="#777" stroke-width="0.8"/>
<line x1="109.7" y1="396.3" x2="109.7" y2="395.1" stroke="#666" stroke-width="0.5"/>
<line x1="109.7" y1="367.4" x2="109.7" y2="368.6" stroke="#666" stroke-width="0.5"/>
<text x="109.7" y="402.04" font-size="5.2" text-anchor="middle" class="tk s">0</text>
<line x1="133.89" y1="396.3" x2="133.89" y2="395.1" stroke="#666" stroke-width="0.5"/>
<line x1="133.89" y1="367.4" x2="133.89" y2="368.6" stroke="#666" stroke-width="0.5"/>
<text x="133.89" y="402.04" font-size="5.2" text-anchor="middle" class="tk s">100</text>
<line x1="158.08" y1="396.3" x2="158.08" y2="395.1" stroke="#666" stroke-width="0.5"/>
<line x1="158.08" y1="367.4" x2="158.08" y2="368.6" stroke="#666" stroke-width="0.5"/>
<text x="158.08" y="402.04" font-size="5.2" text-anchor="middle" class="tk s">200</text>
<line x1="109.7" y1="396.3" x2="110.9" y2="396.3" stroke="#666" stroke-width="0.5"/>
<line x1="172.6" y1="396.3" x2="171.4" y2="396.3" stroke="#666" stroke-width="0.5"/>
<text x="108.2" y="398.17" font-size="5.2" text-anchor="end" class="tk s">-100</text>
<line x1="109.7" y1="381.85" x2="110.9" y2="381.85" stroke="#666" stroke-width="0.5"/>
<line x1="172.6" y1="381.85" x2="171.4" y2="381.85" stroke="#666" stroke-width="0.5"/>
<text x="108.2" y="383.72" font-size="5.2" text-anchor="end" class="tk s">0</text>
<line x1="109.7" y1="367.4" x2="110.9" y2="367.4" stroke="#666" stroke-width="0.5"/>
<line x1="172.6" y1="367.4" x2="171.4" y2="367.4" stroke="#666" stroke-width="0.5"/>
<text x="108.2" y="369.27" font-size="5.2" text-anchor="end" class="tk s">100</text>
<text x="141.15" y="408.1" font-size="5.2" text-anchor="middle" class="tk s">t (s)</text>
<text x="91.2" y="381.85" font-size="5.2" text-anchor="middle" class="tk s" transform="rotate(-90 91.2 381.85)">v<tspan font-size="0.75em" dy="0.35em">φ</tspan><tspan dy="-0.35em"> °/s</tspan></text>
<line x1="19.5" y1="428.65" x2="82.4" y2="428.65" stroke="#aaa" stroke-width="0.7" stroke-dasharray="1 2"/>
<clipPath id="c303"><rect x="19.5" y="414.3" width="62.9" height="28.7"/></clipPath>
<polyline clip-path="url(#c303)" points="19.5,428.65 82.4,428.65" fill="none" stroke="#1a1aff" stroke-width="1.6" stroke-linejoin="round"/>
<rect x="19.5" y="414.3" width="62.9" height="28.7" fill="none" stroke="#777" stroke-width="0.8"/>
<line x1="19.5" y1="443" x2="19.5" y2="441.8" stroke="#666" stroke-width="0.5"/>
<line x1="19.5" y1="414.3" x2="19.5" y2="415.5" stroke="#666" stroke-width="0.5"/>
<text x="19.5" y="448.74" font-size="5.2" text-anchor="middle" class="tk s">0</text>
<line x1="43.69" y1="443" x2="43.69" y2="441.8" stroke="#666" stroke-width="0.5"/>
<line x1="43.69" y1="414.3" x2="43.69" y2="415.5" stroke="#666" stroke-width="0.5"/>
<text x="43.69" y="448.74" font-size="5.2" text-anchor="middle" class="tk s">100</text>
<line x1="67.88" y1="443" x2="67.88" y2="441.8" stroke="#666" stroke-width="0.5"/>
<line x1="67.88" y1="414.3" x2="67.88" y2="415.5" stroke="#666" stroke-width="0.5"/>
<text x="67.88" y="448.74" font-size="5.2" text-anchor="middle" class="tk s">200</text>
<line x1="19.5" y1="443" x2="20.7" y2="443" stroke="#666" stroke-width="0.5"/>
<line x1="82.4" y1="443" x2="81.2" y2="443" stroke="#666" stroke-width="0.5"/>
<text x="18" y="444.87" font-size="5.2" text-anchor="end" class="tk s">-20</text>
<line x1="19.5" y1="428.65" x2="20.7" y2="428.65" stroke="#666" stroke-width="0.5"/>
<line x1="82.4" y1="428.65" x2="81.2" y2="428.65" stroke="#666" stroke-width="0.5"/>
<text x="18" y="430.52" font-size="5.2" text-anchor="end" class="tk s">0</text>
<line x1="19.5" y1="414.3" x2="20.7" y2="414.3" stroke="#666" stroke-width="0.5"/>
<line x1="82.4" y1="414.3" x2="81.2" y2="414.3" stroke="#666" stroke-width="0.5"/>
<text x="18" y="416.17" font-size="5.2" text-anchor="end" class="tk s">20</text>
<text x="50.95" y="454.8" font-size="5.2" text-anchor="middle" class="tk s">t (s)</text>
<text x="8.5" y="428.65" font-size="5.2" text-anchor="middle" class="tk s" transform="rotate(-90 8.5 428.65)">θ (°)</text>
<line x1="109.5" y1="428.65" x2="172.6" y2="428.65" stroke="#aaa" stroke-width="0.7" stroke-dasharray="1 2"/>
<clipPath id="c327"><rect x="109.5" y="414.3" width="63.1" height="28.7"/></clipPath>
<polyline clip-path="url(#c327)" points="109.5,428.79 120.42,428.79 121.63,428.65 172.6,428.65" fill="none" stroke="#1a1aff" stroke-width="1.6" stroke-linejoin="round"/>
<rect x="109.5" y="414.3" width="63.1" height="28.7" fill="none" stroke="#777" stroke-width="0.8"/>
<line x1="109.5" y1="443" x2="109.5" y2="441.8" stroke="#666" stroke-width="0.5"/>
<line x1="109.5" y1="414.3" x2="109.5" y2="415.5" stroke="#666" stroke-width="0.5"/>
<text x="109.5" y="448.74" font-size="5.2" text-anchor="middle" class="tk s">0</text>
<line x1="133.77" y1="443" x2="133.77" y2="441.8" stroke="#666" stroke-width="0.5"/>
<line x1="133.77" y1="414.3" x2="133.77" y2="415.5" stroke="#666" stroke-width="0.5"/>
<text x="133.77" y="448.74" font-size="5.2" text-anchor="middle" class="tk s">100</text>
<line x1="158.04" y1="443" x2="158.04" y2="441.8" stroke="#666" stroke-width="0.5"/>
<line x1="158.04" y1="414.3" x2="158.04" y2="415.5" stroke="#666" stroke-width="0.5"/>
<text x="158.04" y="448.74" font-size="5.2" text-anchor="middle" class="tk s">200</text>
<line x1="109.5" y1="443" x2="110.7" y2="443" stroke="#666" stroke-width="0.5"/>
<line x1="172.6" y1="443" x2="171.4" y2="443" stroke="#666" stroke-width="0.5"/>
<text x="108" y="444.87" font-size="5.2" text-anchor="end" class="tk s">-100</text>
<line x1="109.5" y1="428.65" x2="110.7" y2="428.65" stroke="#666" stroke-width="0.5"/>
<line x1="172.6" y1="428.65" x2="171.4" y2="428.65" stroke="#666" stroke-width="0.5"/>
<text x="108" y="430.52" font-size="5.2" text-anchor="end" class="tk s">0</text>
<line x1="109.5" y1="414.3" x2="110.7" y2="414.3" stroke="#666" stroke-width="0.5"/>
<line x1="172.6" y1="414.3" x2="171.4" y2="414.3" stroke="#666" stroke-width="0.5"/>
<text x="108" y="416.17" font-size="5.2" text-anchor="end" class="tk s">100</text>
<text x="141.05" y="454.8" font-size="5.2" text-anchor="middle" class="tk s">t (s)</text>
<text x="91" y="428.65" font-size="5.2" text-anchor="middle" class="tk s" transform="rotate(-90 91 428.65)">v<tspan font-size="0.75em" dy="0.35em">θ</tspan><tspan dy="-0.35em"> (°/s)</tspan></text>
<line x1="205" y1="228.85" x2="269.5" y2="228.85" stroke="#aaa" stroke-width="0.7" stroke-dasharray="1 2"/>
<clipPath id="c351"><rect x="205" y="216.4" width="64.5" height="24.9"/></clipPath>
<polyline clip-path="url(#c351)" points="205,222.62 211.64,216.4 217.33,220.76 223.97,224.49 242.94,226.36 269.5,233.21" fill="none" stroke="#1a1aff" stroke-width="2.0" stroke-linejoin="round"/>
<rect x="205" y="216.4" width="64.5" height="24.9" fill="none" stroke="#666" stroke-width="1"/>
<line x1="205" y1="241.3" x2="205" y2="240.1" stroke="#666" stroke-width="0.5"/>
<line x1="205" y1="216.4" x2="205" y2="217.6" stroke="#666" stroke-width="0.5"/>
<text x="205" y="249.25" font-size="7" text-anchor="middle" class="tk" transform="translate(205 249.25) scale(0.85 1) translate(-205 -249.25)">0</text>
<line x1="223.97" y1="241.3" x2="223.97" y2="240.1" stroke="#666" stroke-width="0.5"/>
<line x1="223.97" y1="216.4" x2="223.97" y2="217.6" stroke="#666" stroke-width="0.5"/>
<text x="223.97" y="249.25" font-size="7" text-anchor="middle" class="tk" transform="translate(223.97 249.25) scale(0.85 1) translate(-223.97 -249.25)">20</text>
<line x1="242.94" y1="241.3" x2="242.94" y2="240.1" stroke="#666" stroke-width="0.5"/>
<line x1="242.94" y1="216.4" x2="242.94" y2="217.6" stroke="#666" stroke-width="0.5"/>
<text x="242.94" y="249.25" font-size="7" text-anchor="middle" class="tk" transform="translate(242.94 249.25) scale(0.85 1) translate(-242.94 -249.25)">40</text>
<line x1="261.91" y1="241.3" x2="261.91" y2="240.1" stroke="#666" stroke-width="0.5"/>
<line x1="261.91" y1="216.4" x2="261.91" y2="217.6" stroke="#666" stroke-width="0.5"/>
<text x="261.91" y="249.25" font-size="7" text-anchor="middle" class="tk" transform="translate(261.91 249.25) scale(0.85 1) translate(-261.91 -249.25)">60</text>
<line x1="205" y1="241.3" x2="206.2" y2="241.3" stroke="#666" stroke-width="0.5"/>
<line x1="269.5" y1="241.3" x2="268.3" y2="241.3" stroke="#666" stroke-width="0.5"/>
<text x="203.5" y="243.82" font-size="7" text-anchor="end" class="tk" transform="translate(203.5 243.82) scale(0.85 1) translate(-203.5 -243.82)">-10</text>
<line x1="205" y1="228.85" x2="206.2" y2="228.85" stroke="#666" stroke-width="0.5"/>
<line x1="269.5" y1="228.85" x2="268.3" y2="228.85" stroke="#666" stroke-width="0.5"/>
<text x="203.5" y="231.37" font-size="7" text-anchor="end" class="tk" transform="translate(203.5 231.37) scale(0.85 1) translate(-203.5 -231.37)">0</text>
<line x1="205" y1="216.4" x2="206.2" y2="216.4" stroke="#666" stroke-width="0.5"/>
<line x1="269.5" y1="216.4" x2="268.3" y2="216.4" stroke="#666" stroke-width="0.5"/>
<text x="203.5" y="218.92" font-size="7" text-anchor="end" class="tk" transform="translate(203.5 218.92) scale(0.85 1) translate(-203.5 -218.92)">10</text>
<text x="237.25" y="257.85" font-size="7" text-anchor="middle" class="tk" transform="translate(237.25 257.85) scale(0.85 1) translate(-237.25 -257.85)">t (s)</text>
<text x="191.5" y="228.85" font-size="7" text-anchor="middle" class="tk" transform="rotate(-90 191.5 228.85)">x (m)</text>
<line x1="291.6" y1="228.85" x2="355.5" y2="228.85" stroke="#aaa" stroke-width="0.7" stroke-dasharray="1 2"/>
<clipPath id="c378"><rect x="291.6" y="216.4" width="63.9" height="24.9"/></clipPath>
<polyline clip-path="url(#c378)" points="291.6,226.98 292.54,222 293.95,228.23 295.83,222 297.71,228.85 299.12,233.21 300.53,229.47 301.94,233.21 303.35,229.47 304.76,233.21 306.17,229.47 308.04,233.21 309.45,228.85 310.39,228.1 311.33,228.85 312.27,229.6 313.21,228.85 314.15,228.1 315.09,228.85 316.03,229.6 316.97,228.85 317.91,228.1 318.85,228.85 319.79,229.6 320.73,228.85 321.67,228.1 322.61,228.85 323.55,229.6 324.49,228.85 325.43,228.1 326.37,228.85 327.31,229.6 328.25,228.85 328.95,229.97 329.66,228.85 330.36,227.92 331.07,228.85 331.77,229.97 332.48,228.85 333.18,227.92 333.89,228.85 334.59,229.97 335.3,228.85 336,227.92 336.71,228.85 337.41,229.97 338.12,228.85 338.82,227.92 339.52,228.85 340.23,229.97 340.93,228.85 341.64,227.92 342.34,228.85 343.05,229.97 343.75,228.85 344.46,227.92 345.16,228.85 345.87,229.97 346.57,228.85 347.28,227.92 347.98,228.85 348.69,229.97 349.39,228.85 350.1,227.92 350.8,228.85 351.51,229.97 352.21,228.85 352.92,227.92 353.62,228.85 354.33,229.97 355.03,228.85 355.73,227.92 356.44,228.85" fill="none" stroke="#1a1aff" stroke-width="2.0" stroke-linejoin="round"/>
<rect x="291.6" y="216.4" width="63.9" height="24.9" fill="none" stroke="#666" stroke-width="1"/>
<line x1="291.6" y1="241.3" x2="291.6" y2="240.1" stroke="#666" stroke-width="0.5"/>
<line x1="291.6" y1="216.4" x2="291.6" y2="217.6" stroke="#666" stroke-width="0.5"/>
<text x="291.6" y="249.25" font-size="7" text-anchor="middle" class="tk" transform="translate(291.6 249.25) scale(0.85 1) translate(-291.6 -249.25)">0</text>
<line x1="310.39" y1="241.3" x2="310.39" y2="240.1" stroke="#666" stroke-width="0.5"/>
<line x1="310.39" y1="216.4" x2="310.39" y2="217.6" stroke="#666" stroke-width="0.5"/>
<text x="310.39" y="249.25" font-size="7" text-anchor="middle" class="tk" transform="translate(310.39 249.25) scale(0.85 1) translate(-310.39 -249.25)">20</text>
<line x1="329.19" y1="241.3" x2="329.19" y2="240.1" stroke="#666" stroke-width="0.5"/>
<line x1="329.19" y1="216.4" x2="329.19" y2="217.6" stroke="#666" stroke-width="0.5"/>
<text x="329.19" y="249.25" font-size="7" text-anchor="middle" class="tk" transform="translate(329.19 249.25) scale(0.85 1) translate(-329.19 -249.25)">40</text>
<line x1="347.98" y1="241.3" x2="347.98" y2="240.1" stroke="#666" stroke-width="0.5"/>
<line x1="347.98" y1="216.4" x2="347.98" y2="217.6" stroke="#666" stroke-width="0.5"/>
<text x="347.98" y="249.25" font-size="7" text-anchor="middle" class="tk" transform="translate(347.98 249.25) scale(0.85 1) translate(-347.98 -249.25)">60</text>
<line x1="291.6" y1="241.3" x2="292.8" y2="241.3" stroke="#666" stroke-width="0.5"/>
<line x1="355.5" y1="241.3" x2="354.3" y2="241.3" stroke="#666" stroke-width="0.5"/>
<text x="290.1" y="243.82" font-size="7" text-anchor="end" class="tk" transform="translate(290.1 243.82) scale(0.85 1) translate(-290.1 -243.82)">-2</text>
<line x1="291.6" y1="228.85" x2="292.8" y2="228.85" stroke="#666" stroke-width="0.5"/>
<line x1="355.5" y1="228.85" x2="354.3" y2="228.85" stroke="#666" stroke-width="0.5"/>
<text x="290.1" y="231.37" font-size="7" text-anchor="end" class="tk" transform="translate(290.1 231.37) scale(0.85 1) translate(-290.1 -231.37)">0</text>
<line x1="291.6" y1="216.4" x2="292.8" y2="216.4" stroke="#666" stroke-width="0.5"/>
<line x1="355.5" y1="216.4" x2="354.3" y2="216.4" stroke="#666" stroke-width="0.5"/>
<text x="290.1" y="218.92" font-size="7" text-anchor="end" class="tk" transform="translate(290.1 218.92) scale(0.85 1) translate(-290.1 -218.92)">2</text>
<text x="323.55" y="257.85" font-size="7" text-anchor="middle" class="tk" transform="translate(323.55 257.85) scale(0.85 1) translate(-323.55 -257.85)">t (s)</text>
<text x="278.1" y="228.85" font-size="7" text-anchor="middle" class="tk" transform="rotate(-90 278.1 228.85)">v<tspan font-size="0.75em" dy="0.35em">x</tspan><tspan dy="-0.35em"> (m/s)</tspan></text>
<line x1="205" y1="277" x2="269.5" y2="277" stroke="#aaa" stroke-width="0.7" stroke-dasharray="1 2"/>
<clipPath id="c405"><rect x="205" y="264.5" width="64.5" height="25"/></clipPath>
<polyline clip-path="url(#c405)" points="205,280.12 211.64,282.62 223.97,282 233.46,280.12 242.94,277.62 269.5,269.5" fill="none" stroke="#1a1aff" stroke-width="2.0" stroke-linejoin="round"/>
<rect x="205" y="264.5" width="64.5" height="25" fill="none" stroke="#666" stroke-width="1"/>
<line x1="205" y1="289.5" x2="205" y2="288.3" stroke="#666" stroke-width="0.5"/>
<line x1="205" y1="264.5" x2="205" y2="265.7" stroke="#666" stroke-width="0.5"/>
<text x="205" y="297.45" font-size="7" text-anchor="middle" class="tk" transform="translate(205 297.45) scale(0.85 1) translate(-205 -297.45)">0</text>
<line x1="223.97" y1="289.5" x2="223.97" y2="288.3" stroke="#666" stroke-width="0.5"/>
<line x1="223.97" y1="264.5" x2="223.97" y2="265.7" stroke="#666" stroke-width="0.5"/>
<text x="223.97" y="297.45" font-size="7" text-anchor="middle" class="tk" transform="translate(223.97 297.45) scale(0.85 1) translate(-223.97 -297.45)">20</text>
<line x1="242.94" y1="289.5" x2="242.94" y2="288.3" stroke="#666" stroke-width="0.5"/>
<line x1="242.94" y1="264.5" x2="242.94" y2="265.7" stroke="#666" stroke-width="0.5"/>
<text x="242.94" y="297.45" font-size="7" text-anchor="middle" class="tk" transform="translate(242.94 297.45) scale(0.85 1) translate(-242.94 -297.45)">40</text>
<line x1="261.91" y1="289.5" x2="261.91" y2="288.3" stroke="#666" stroke-width="0.5"/>
<line x1="261.91" y1="264.5" x2="261.91" y2="265.7" stroke="#666" stroke-width="0.5"/>
<text x="261.91" y="297.45" font-size="7" text-anchor="middle" class="tk" transform="translate(261.91 297.45) scale(0.85 1) translate(-261.91 -297.45)">60</text>
<line x1="205" y1="289.5" x2="206.2" y2="289.5" stroke="#666" stroke-width="0.5"/>
<line x1="269.5" y1="289.5" x2="268.3" y2="289.5" stroke="#666" stroke-width="0.5"/>
<text x="203.5" y="292.02" font-size="7" text-anchor="end" class="tk" transform="translate(203.5 292.02) scale(0.85 1) translate(-203.5 -292.02)">-10</text>
<line x1="205" y1="277" x2="206.2" y2="277" stroke="#666" stroke-width="0.5"/>
<line x1="269.5" y1="277" x2="268.3" y2="277" stroke="#666" stroke-width="0.5"/>
<text x="203.5" y="279.52" font-size="7" text-anchor="end" class="tk" transform="translate(203.5 279.52) scale(0.85 1) translate(-203.5 -279.52)">0</text>
<line x1="205" y1="264.5" x2="206.2" y2="264.5" stroke="#666" stroke-width="0.5"/>
<line x1="269.5" y1="264.5" x2="268.3" y2="264.5" stroke="#666" stroke-width="0.5"/>
<text x="203.5" y="267.02" font-size="7" text-anchor="end" class="tk" transform="translate(203.5 267.02) scale(0.85 1) translate(-203.5 -267.02)">10</text>
<text x="237.25" y="306.05" font-size="7" text-anchor="middle" class="tk" transform="translate(237.25 306.05) scale(0.85 1) translate(-237.25 -306.05)">t (s)</text>
<text x="191.5" y="277" font-size="7" text-anchor="middle" class="tk" transform="rotate(-90 191.5 277)">y (m)</text>
<line x1="291.6" y1="277" x2="355.5" y2="277" stroke="#aaa" stroke-width="0.7" stroke-dasharray="1 2"/>
<clipPath id="c432"><rect x="291.6" y="264.5" width="63.9" height="25"/></clipPath>
<polyline clip-path="url(#c432)" points="291.6,278.25 292.54,280.12 293.95,277.62 295.36,280.75 297.24,277 299.12,276.69 310.39,276.69 311.52,276.38 312.46,274.38 313.59,276.69 315.09,276.69 316.22,276.38 317.16,274.38 318.29,276.69 319.79,276.69 320.92,276.38 321.86,274.38 322.99,276.69 324.49,276.69 325.62,276.38 326.56,274.38 327.68,276.69 329.19,276.69 330.6,274.62 332.01,276.88 333.42,274.62 334.83,276.88 336.24,274.62 337.65,276.88 339.06,274.62 340.46,276.88 341.87,274.62 343.28,276.88 344.69,274.62 346.1,276.88 347.51,274.62 348.92,276.88 350.33,274.62 351.74,276.88 353.15,274.62 354.56,276.88 355.97,274.62 357.38,276.88" fill="none" stroke="#1a1aff" stroke-width="2.0" stroke-linejoin="round"/>
<rect x="291.6" y="264.5" width="63.9" height="25" fill="none" stroke="#666" stroke-width="1"/>
<line x1="291.6" y1="289.5" x2="291.6" y2="288.3" stroke="#666" stroke-width="0.5"/>
<line x1="291.6" y1="264.5" x2="291.6" y2="265.7" stroke="#666" stroke-width="0.5"/>
<text x="291.6" y="297.45" font-size="7" text-anchor="middle" class="tk" transform="translate(291.6 297.45) scale(0.85 1) translate(-291.6 -297.45)">0</text>
<line x1="310.39" y1="289.5" x2="310.39" y2="288.3" stroke="#666" stroke-width="0.5"/>
<line x1="310.39" y1="264.5" x2="310.39" y2="265.7" stroke="#666" stroke-width="0.5"/>
<text x="310.39" y="297.45" font-size="7" text-anchor="middle" class="tk" transform="translate(310.39 297.45) scale(0.85 1) translate(-310.39 -297.45)">20</text>
<line x1="329.19" y1="289.5" x2="329.19" y2="288.3" stroke="#666" stroke-width="0.5"/>
<line x1="329.19" y1="264.5" x2="329.19" y2="265.7" stroke="#666" stroke-width="0.5"/>
<text x="329.19" y="297.45" font-size="7" text-anchor="middle" class="tk" transform="translate(329.19 297.45) scale(0.85 1) translate(-329.19 -297.45)">40</text>
<line x1="347.98" y1="289.5" x2="347.98" y2="288.3" stroke="#666" stroke-width="0.5"/>
<line x1="347.98" y1="264.5" x2="347.98" y2="265.7" stroke="#666" stroke-width="0.5"/>
<text x="347.98" y="297.45" font-size="7" text-anchor="middle" class="tk" transform="translate(347.98 297.45) scale(0.85 1) translate(-347.98 -297.45)">60</text>
<line x1="291.6" y1="289.5" x2="292.8" y2="289.5" stroke="#666" stroke-width="0.5"/>
<line x1="355.5" y1="289.5" x2="354.3" y2="289.5" stroke="#666" stroke-width="0.5"/>
<text x="290.1" y="292.02" font-size="7" text-anchor="end" class="tk" transform="translate(290.1 292.02) scale(0.85 1) translate(-290.1 -292.02)">-2</text>
<line x1="291.6" y1="277" x2="292.8" y2="277" stroke="#666" stroke-width="0.5"/>
<line x1="355.5" y1="277" x2="354.3" y2="277" stroke="#666" stroke-width="0.5"/>
<text x="290.1" y="279.52" font-size="7" text-anchor="end" class="tk" transform="translate(290.1 279.52) scale(0.85 1) translate(-290.1 -279.52)">0</text>
<line x1="291.6" y1="264.5" x2="292.8" y2="264.5" stroke="#666" stroke-width="0.5"/>
<line x1="355.5" y1="264.5" x2="354.3" y2="264.5" stroke="#666" stroke-width="0.5"/>
<text x="290.1" y="267.02" font-size="7" text-anchor="end" class="tk" transform="translate(290.1 267.02) scale(0.85 1) translate(-290.1 -267.02)">2</text>
<text x="323.55" y="306.05" font-size="7" text-anchor="middle" class="tk" transform="translate(323.55 306.05) scale(0.85 1) translate(-323.55 -306.05)">t (s)</text>
<text x="278.1" y="277" font-size="7" text-anchor="middle" class="tk" transform="rotate(-90 278.1 277)">v<tspan font-size="0.75em" dy="0.35em">y</tspan><tspan dy="-0.35em"> (m/s)</tspan></text>
<line x1="205" y1="325.15" x2="269.5" y2="325.15" stroke="#aaa" stroke-width="0.7" stroke-dasharray="1 2"/>
<clipPath id="c459"><rect x="205" y="312.7" width="64.5" height="24.9"/></clipPath>
<polyline clip-path="url(#c459)" points="205,332 211.64,328.26 223.97,337.6 224.92,336.98 225.87,335.42 227.29,335.11 228.71,333.55 230.14,333.24 231.56,331.38 232.98,331.06 234.4,328.88 235.83,328.57 237.25,326.39 238.67,325.77 240.1,323.91 242.28,322.04 269.5,333.24" fill="none" stroke="#1a1aff" stroke-width="2.0" stroke-linejoin="round"/>
<rect x="205" y="312.7" width="64.5" height="24.9" fill="none" stroke="#666" stroke-width="1"/>
<line x1="205" y1="337.6" x2="205" y2="336.4" stroke="#666" stroke-width="0.5"/>
<line x1="205" y1="312.7" x2="205" y2="313.9" stroke="#666" stroke-width="0.5"/>
<text x="205" y="345.55" font-size="7" text-anchor="middle" class="tk" transform="translate(205 345.55) scale(0.85 1) translate(-205 -345.55)">0</text>
<line x1="223.97" y1="337.6" x2="223.97" y2="336.4" stroke="#666" stroke-width="0.5"/>
<line x1="223.97" y1="312.7" x2="223.97" y2="313.9" stroke="#666" stroke-width="0.5"/>
<text x="223.97" y="345.55" font-size="7" text-anchor="middle" class="tk" transform="translate(223.97 345.55) scale(0.85 1) translate(-223.97 -345.55)">20</text>
<line x1="242.94" y1="337.6" x2="242.94" y2="336.4" stroke="#666" stroke-width="0.5"/>
<line x1="242.94" y1="312.7" x2="242.94" y2="313.9" stroke="#666" stroke-width="0.5"/>
<text x="242.94" y="345.55" font-size="7" text-anchor="middle" class="tk" transform="translate(242.94 345.55) scale(0.85 1) translate(-242.94 -345.55)">40</text>
<line x1="261.91" y1="337.6" x2="261.91" y2="336.4" stroke="#666" stroke-width="0.5"/>
<line x1="261.91" y1="312.7" x2="261.91" y2="313.9" stroke="#666" stroke-width="0.5"/>
<text x="261.91" y="345.55" font-size="7" text-anchor="middle" class="tk" transform="translate(261.91 345.55) scale(0.85 1) translate(-261.91 -345.55)">60</text>
<line x1="205" y1="337.6" x2="206.2" y2="337.6" stroke="#666" stroke-width="0.5"/>
<line x1="269.5" y1="337.6" x2="268.3" y2="337.6" stroke="#666" stroke-width="0.5"/>
<text x="203.5" y="340.12" font-size="7" text-anchor="end" class="tk" transform="translate(203.5 340.12) scale(0.85 1) translate(-203.5 -340.12)">0</text>
<line x1="205" y1="325.15" x2="206.2" y2="325.15" stroke="#666" stroke-width="0.5"/>
<line x1="269.5" y1="325.15" x2="268.3" y2="325.15" stroke="#666" stroke-width="0.5"/>
<text x="203.5" y="327.67" font-size="7" text-anchor="end" class="tk" transform="translate(203.5 327.67) scale(0.85 1) translate(-203.5 -327.67)">2</text>
<line x1="205" y1="312.7" x2="206.2" y2="312.7" stroke="#666" stroke-width="0.5"/>
<line x1="269.5" y1="312.7" x2="268.3" y2="312.7" stroke="#666" stroke-width="0.5"/>
<text x="203.5" y="315.22" font-size="7" text-anchor="end" class="tk" transform="translate(203.5 315.22) scale(0.85 1) translate(-203.5 -315.22)">4</text>
<text x="237.25" y="354.15" font-size="7" text-anchor="middle" class="tk" transform="translate(237.25 354.15) scale(0.85 1) translate(-237.25 -354.15)">t (s)</text>
<text x="191.5" y="325.15" font-size="7" text-anchor="middle" class="tk" transform="rotate(-90 191.5 325.15)">z (m)</text>
<line x1="291.6" y1="325.15" x2="355.5" y2="325.15" stroke="#aaa" stroke-width="0.7" stroke-dasharray="1 2"/>
<clipPath id="c486"><rect x="291.6" y="312.7" width="63.9" height="24.9"/></clipPath>
<polyline clip-path="url(#c486)" points="291.6,324.53 297.24,324.53 298.18,325.77 299.12,325.46 300.06,326.08 301,325.77 301.94,325.46 302.88,326.08 303.82,325.77 304.76,325.46 305.7,326.08 306.64,325.77 307.58,325.46 308.51,326.08 309.45,325.77 310.39,325.77 311.33,323.59 312.27,322.78 313.21,323.91 315.09,323.78 316.03,322.78 316.97,323.91 318.85,323.78 319.79,322.78 320.73,323.91 322.61,323.78 323.55,322.78 324.49,323.91 326.37,323.78 327.31,323.28 328.72,325.46 329.85,325.15 330.97,325.65 332.1,325.15 333.23,325.65 334.36,325.15 335.48,325.65 336.61,325.15 337.74,325.65 338.87,325.15 339.99,325.65 341.12,325.15 342.25,325.65 343.38,325.15 344.51,325.65 345.63,325.15 346.76,325.65 347.89,325.15 349.02,325.65 350.14,325.15 351.27,325.65 352.4,325.15 353.53,325.65 354.65,325.15 355.78,325.65" fill="none" stroke="#1a1aff" stroke-width="2.0" stroke-linejoin="round"/>
<rect x="291.6" y="312.7" width="63.9" height="24.9" fill="none" stroke="#666" stroke-width="1"/>
<line x1="291.6" y1="337.6" x2="291.6" y2="336.4" stroke="#666" stroke-width="0.5"/>
<line x1="291.6" y1="312.7" x2="291.6" y2="313.9" stroke="#666" stroke-width="0.5"/>
<text x="291.6" y="345.55" font-size="7" text-anchor="middle" class="tk" transform="translate(291.6 345.55) scale(0.85 1) translate(-291.6 -345.55)">0</text>
<line x1="310.39" y1="337.6" x2="310.39" y2="336.4" stroke="#666" stroke-width="0.5"/>
<line x1="310.39" y1="312.7" x2="310.39" y2="313.9" stroke="#666" stroke-width="0.5"/>
<text x="310.39" y="345.55" font-size="7" text-anchor="middle" class="tk" transform="translate(310.39 345.55) scale(0.85 1) translate(-310.39 -345.55)">20</text>
<line x1="329.19" y1="337.6" x2="329.19" y2="336.4" stroke="#666" stroke-width="0.5"/>
<line x1="329.19" y1="312.7" x2="329.19" y2="313.9" stroke="#666" stroke-width="0.5"/>
<text x="329.19" y="345.55" font-size="7" text-anchor="middle" class="tk" transform="translate(329.19 345.55) scale(0.85 1) translate(-329.19 -345.55)">40</text>
<line x1="347.98" y1="337.6" x2="347.98" y2="336.4" stroke="#666" stroke-width="0.5"/>
<line x1="347.98" y1="312.7" x2="347.98" y2="313.9" stroke="#666" stroke-width="0.5"/>
<text x="347.98" y="345.55" font-size="7" text-anchor="middle" class="tk" transform="translate(347.98 345.55) scale(0.85 1) translate(-347.98 -345.55)">60</text>
<line x1="291.6" y1="337.6" x2="292.8" y2="337.6" stroke="#666" stroke-width="0.5"/>
<line x1="355.5" y1="337.6" x2="354.3" y2="337.6" stroke="#666" stroke-width="0.5"/>
<text x="290.1" y="340.12" font-size="7" text-anchor="end" class="tk" transform="translate(290.1 340.12) scale(0.85 1) translate(-290.1 -340.12)">-2</text>
<line x1="291.6" y1="325.15" x2="292.8" y2="325.15" stroke="#666" stroke-width="0.5"/>
<line x1="355.5" y1="325.15" x2="354.3" y2="325.15" stroke="#666" stroke-width="0.5"/>
<text x="290.1" y="327.67" font-size="7" text-anchor="end" class="tk" transform="translate(290.1 327.67) scale(0.85 1) translate(-290.1 -327.67)">0</text>
<line x1="291.6" y1="312.7" x2="292.8" y2="312.7" stroke="#666" stroke-width="0.5"/>
<line x1="355.5" y1="312.7" x2="354.3" y2="312.7" stroke="#666" stroke-width="0.5"/>
<text x="290.1" y="315.22" font-size="7" text-anchor="end" class="tk" transform="translate(290.1 315.22) scale(0.85 1) translate(-290.1 -315.22)">2</text>
<text x="323.55" y="354.15" font-size="7" text-anchor="middle" class="tk" transform="translate(323.55 354.15) scale(0.85 1) translate(-323.55 -354.15)">t (s)</text>
<text x="278.1" y="325.15" font-size="7" text-anchor="middle" class="tk" transform="rotate(-90 278.1 325.15)">v<tspan font-size="0.75em" dy="0.35em">z</tspan><tspan dy="-0.35em"> (m/s)</tspan></text>
<line x1="201.1" y1="382.85" x2="265.8" y2="382.85" stroke="#aaa" stroke-width="0.7" stroke-dasharray="1 2"/>
<clipPath id="c513"><rect x="201.1" y="367.3" width="64.7" height="31.1"/></clipPath>
<polyline clip-path="url(#c513)" points="201.1,380.52 201.67,378.96 202.34,385.18 203,384.4 203.57,378.96 204.24,385.18 205.1,382.85 205.86,383.24 206.57,382.54 207.28,383.08 208,382.54 208.71,383.08 209.43,382.54 210.14,383.08 210.85,382.54 211.57,383.08 212.28,382.54 212.99,383.08 213.71,382.54 214.42,383.08 215.13,382.54 215.85,383.08 216.56,382.54 217.28,383.08 217.99,382.54 218.7,383.08 219.42,382.54 220.13,383.08 220.61,382.85 221.37,385.57 222.13,382.85 222.89,380.13 223.65,382.85 224.41,385.57 225.17,382.85 225.93,380.13 226.69,382.85 227.46,385.57 228.22,382.85 228.98,380.13 229.74,382.85 230.5,385.57 231.26,382.85 232.02,380.13 232.78,382.85 233.55,385.57 234.31,382.85 235.07,380.13 235.83,382.85 236.59,385.57 237.35,382.85 238.11,380.13 238.87,382.85 239.44,380.67 240.02,382.85 240.59,385.03 241.16,382.85 241.73,380.67 242.3,382.85 242.87,385.03 243.44,382.85 244.01,380.67 244.58,382.85 245.15,385.03 245.72,382.85 246.29,380.67 246.87,382.85 247.44,385.03 248.01,382.85 248.58,380.67 249.15,382.85 249.72,385.03 250.29,382.85 250.86,380.67 251.43,382.85 252,385.03 252.57,382.85 253.15,380.67 253.72,382.85 254.29,385.03 254.86,382.85 255.43,380.67 256,382.85 256.57,385.03 257.14,382.85 257.71,380.67 258.28,382.85 258.85,385.03 259.43,382.85 260,380.67 260.57,382.85 261.14,385.03 261.71,382.85 262.28,380.67 262.85,382.85 263.42,385.03 263.99,382.85 264.56,380.67 265.13,382.85 265.7,385.03 266.28,382.85" fill="none" stroke="#1a1aff" stroke-width="1.25" stroke-linejoin="round"/>
<rect x="201.1" y="367.3" width="64.7" height="31.1" fill="none" stroke="#777" stroke-width="0.8"/>
<line x1="201.1" y1="398.4" x2="201.1" y2="397.2" stroke="#666" stroke-width="0.5"/>
<line x1="201.1" y1="367.3" x2="201.1" y2="368.5" stroke="#666" stroke-width="0.5"/>
<text x="201.1" y="404.14" font-size="5.2" text-anchor="middle" class="tk s">0</text>
<line x1="220.13" y1="398.4" x2="220.13" y2="397.2" stroke="#666" stroke-width="0.5"/>
<line x1="220.13" y1="367.3" x2="220.13" y2="368.5" stroke="#666" stroke-width="0.5"/>
<text x="220.13" y="404.14" font-size="5.2" text-anchor="middle" class="tk s">20</text>
<line x1="239.16" y1="398.4" x2="239.16" y2="397.2" stroke="#666" stroke-width="0.5"/>
<line x1="239.16" y1="367.3" x2="239.16" y2="368.5" stroke="#666" stroke-width="0.5"/>
<text x="239.16" y="404.14" font-size="5.2" text-anchor="middle" class="tk s">40</text>
<line x1="258.19" y1="398.4" x2="258.19" y2="397.2" stroke="#666" stroke-width="0.5"/>
<line x1="258.19" y1="367.3" x2="258.19" y2="368.5" stroke="#666" stroke-width="0.5"/>
<text x="258.19" y="404.14" font-size="5.2" text-anchor="middle" class="tk s">60</text>
<line x1="201.1" y1="398.4" x2="202.3" y2="398.4" stroke="#666" stroke-width="0.5"/>
<line x1="265.8" y1="398.4" x2="264.6" y2="398.4" stroke="#666" stroke-width="0.5"/>
<text x="199.6" y="400.27" font-size="5.2" text-anchor="end" class="tk s">-20</text>
<line x1="201.1" y1="382.85" x2="202.3" y2="382.85" stroke="#666" stroke-width="0.5"/>
<line x1="265.8" y1="382.85" x2="264.6" y2="382.85" stroke="#666" stroke-width="0.5"/>
<text x="199.6" y="384.72" font-size="5.2" text-anchor="end" class="tk s">0</text>
<line x1="201.1" y1="367.3" x2="202.3" y2="367.3" stroke="#666" stroke-width="0.5"/>
<line x1="265.8" y1="367.3" x2="264.6" y2="367.3" stroke="#666" stroke-width="0.5"/>
<text x="199.6" y="369.17" font-size="5.2" text-anchor="end" class="tk s">20</text>
<text x="233.45" y="410.2" font-size="5.2" text-anchor="middle" class="tk s">t (s)</text>
<text x="190.1" y="382.85" font-size="5.2" text-anchor="middle" class="tk s" transform="rotate(-90 190.1 382.85)">φ (°)</text>
<line x1="293" y1="381.85" x2="356" y2="381.85" stroke="#aaa" stroke-width="0.7" stroke-dasharray="1 2"/>
<clipPath id="c540"><rect x="293" y="367.4" width="63" height="28.9"/></clipPath>
<polyline clip-path="url(#c540)" points="293,381.85 293.65,379.83 294.3,383.01 294.95,380.12 295.59,382.57 296.24,380.98 297.17,381.85 311.53,381.85 312.27,384.16 312.64,380.4 313.29,381.13 314.03,381.85 315.7,381.85 315.98,384.16 316.35,380.4 317,381.13 317.74,381.85 319.4,381.85 319.68,384.16 320.05,380.4 320.7,381.13 321.44,381.85 323.11,381.85 323.39,384.16 323.76,380.4 324.41,381.13 325.15,381.85 326.82,381.85 327.09,384.16 327.46,380.4 328.11,381.13 328.85,381.85 330.52,381.85 331.08,380.55 331.68,381.85 332.28,382.72 332.84,381.85 333.39,380.55 334,381.85 334.6,382.72 335.15,381.85 335.71,380.55 336.31,381.85 336.91,382.72 337.47,381.85 338.03,380.55 338.63,381.85 339.23,382.72 339.79,381.85 340.34,380.55 340.94,381.85 341.55,382.72 342.1,381.85 342.66,380.55 343.26,381.85 343.86,382.72 344.42,381.85 344.98,380.55 345.58,381.85 346.18,382.72 346.74,381.85 347.29,380.55 347.89,381.85 348.5,382.72 349.05,381.85 349.61,380.55 350.21,381.85 350.81,382.72 351.37,381.85 351.92,380.55 352.53,381.85 353.13,382.72 353.68,381.85 354.24,380.55 354.84,381.85 355.44,382.72 356,381.85" fill="none" stroke="#1a1aff" stroke-width="1.15" stroke-linejoin="round"/>
<rect x="293" y="367.4" width="63" height="28.9" fill="none" stroke="#777" stroke-width="0.8"/>
<line x1="293" y1="396.3" x2="293" y2="395.1" stroke="#666" stroke-width="0.5"/>
<line x1="293" y1="367.4" x2="293" y2="368.6" stroke="#666" stroke-width="0.5"/>
<text x="293" y="402.04" font-size="5.2" text-anchor="middle" class="tk s">0</text>
<line x1="311.53" y1="396.3" x2="311.53" y2="395.1" stroke="#666" stroke-width="0.5"/>
<line x1="311.53" y1="367.4" x2="311.53" y2="368.6" stroke="#666" stroke-width="0.5"/>
<text x="311.53" y="402.04" font-size="5.2" text-anchor="middle" class="tk s">20</text>
<line x1="330.06" y1="396.3" x2="330.06" y2="395.1" stroke="#666" stroke-width="0.5"/>
<line x1="330.06" y1="367.4" x2="330.06" y2="368.6" stroke="#666" stroke-width="0.5"/>
<text x="330.06" y="402.04" font-size="5.2" text-anchor="middle" class="tk s">40</text>
<line x1="348.59" y1="396.3" x2="348.59" y2="395.1" stroke="#666" stroke-width="0.5"/>
<line x1="348.59" y1="367.4" x2="348.59" y2="368.6" stroke="#666" stroke-width="0.5"/>
<text x="348.59" y="402.04" font-size="5.2" text-anchor="middle" class="tk s">60</text>
<line x1="293" y1="396.3" x2="294.2" y2="396.3" stroke="#666" stroke-width="0.5"/>
<line x1="356" y1="396.3" x2="354.8" y2="396.3" stroke="#666" stroke-width="0.5"/>
<text x="291.5" y="398.17" font-size="5.2" text-anchor="end" class="tk s">-100</text>
<line x1="293" y1="381.85" x2="294.2" y2="381.85" stroke="#666" stroke-width="0.5"/>
<line x1="356" y1="381.85" x2="354.8" y2="381.85" stroke="#666" stroke-width="0.5"/>
<text x="291.5" y="383.72" font-size="5.2" text-anchor="end" class="tk s">0</text>
<line x1="293" y1="367.4" x2="294.2" y2="367.4" stroke="#666" stroke-width="0.5"/>
<line x1="356" y1="367.4" x2="354.8" y2="367.4" stroke="#666" stroke-width="0.5"/>
<text x="291.5" y="369.27" font-size="5.2" text-anchor="end" class="tk s">100</text>
<text x="324.5" y="408.1" font-size="5.2" text-anchor="middle" class="tk s">t (s)</text>
<text x="274.5" y="381.85" font-size="5.2" text-anchor="middle" class="tk s" transform="rotate(-90 274.5 381.85)">v<tspan font-size="0.75em" dy="0.35em">φ</tspan><tspan dy="-0.35em"> °/s</tspan></text>
<line x1="203.3" y1="428.3" x2="266.4" y2="428.3" stroke="#aaa" stroke-width="0.7" stroke-dasharray="1 2"/>
<clipPath id="c567"><rect x="203.3" y="413.8" width="63.1" height="29"/></clipPath>
<polyline clip-path="url(#c567)" points="203.3,428.3 204.23,434.1 205.34,424.68 206.55,434.1 207.94,424.68 208.68,426.12 208.96,428.3 209.61,421.78 210.35,430.48 211.09,428.3 212.12,428.3 212.77,421.78 213.51,430.48 214.25,428.3 214.71,428.3 215.36,421.78 216.11,430.48 216.85,428.3 217.22,428.3 217.87,421.78 218.61,430.48 219.35,428.3 219.82,428.3 220.47,421.78 221.21,430.48 221.95,428.3 222.79,428.3 223.71,427.57 224.64,428.3 225.57,429.03 226.5,428.3 227.43,427.57 228.35,428.3 229.28,429.03 230.21,428.3 231.14,427.57 232.07,428.3 232.99,429.03 233.92,428.3 234.85,427.57 235.78,428.3 236.71,429.03 237.63,428.3 238.56,427.57 239.49,428.3 240.42,429.03 241.35,428.3 241.9,427 242.51,428.66 243.67,428.88 244.22,427 244.83,428.66 245.99,428.88 246.54,427 247.15,428.66 248.31,428.88 248.86,427 249.47,428.66 250.62,428.88 251.18,427 251.78,428.66 252.94,428.88 253.5,427 254.1,428.66 255.26,428.88 255.82,427 256.42,428.66 257.58,428.88 258.14,427 258.74,428.66 259.9,428.88 260.46,427 261.06,428.66 262.22,428.88 262.78,427 263.38,428.66 264.54,428.88 265.1,427 265.7,428.66 266.86,428.88" fill="none" stroke="#1a1aff" stroke-width="1.3" stroke-linejoin="round"/>
<rect x="203.3" y="413.8" width="63.1" height="29" fill="none" stroke="#777" stroke-width="0.8"/>
<line x1="203.3" y1="442.8" x2="203.3" y2="441.6" stroke="#666" stroke-width="0.5"/>
<line x1="203.3" y1="413.8" x2="203.3" y2="415" stroke="#666" stroke-width="0.5"/>
<text x="203.3" y="448.54" font-size="5.2" text-anchor="middle" class="tk s">0</text>
<line x1="221.86" y1="442.8" x2="221.86" y2="441.6" stroke="#666" stroke-width="0.5"/>
<line x1="221.86" y1="413.8" x2="221.86" y2="415" stroke="#666" stroke-width="0.5"/>
<text x="221.86" y="448.54" font-size="5.2" text-anchor="middle" class="tk s">20</text>
<line x1="240.42" y1="442.8" x2="240.42" y2="441.6" stroke="#666" stroke-width="0.5"/>
<line x1="240.42" y1="413.8" x2="240.42" y2="415" stroke="#666" stroke-width="0.5"/>
<text x="240.42" y="448.54" font-size="5.2" text-anchor="middle" class="tk s">40</text>
<line x1="258.98" y1="442.8" x2="258.98" y2="441.6" stroke="#666" stroke-width="0.5"/>
<line x1="258.98" y1="413.8" x2="258.98" y2="415" stroke="#666" stroke-width="0.5"/>
<text x="258.98" y="448.54" font-size="5.2" text-anchor="middle" class="tk s">60</text>
<line x1="203.3" y1="442.8" x2="204.5" y2="442.8" stroke="#666" stroke-width="0.5"/>
<line x1="266.4" y1="442.8" x2="265.2" y2="442.8" stroke="#666" stroke-width="0.5"/>
<text x="201.8" y="444.67" font-size="5.2" text-anchor="end" class="tk s">-20</text>
<line x1="203.3" y1="428.3" x2="204.5" y2="428.3" stroke="#666" stroke-width="0.5"/>
<line x1="266.4" y1="428.3" x2="265.2" y2="428.3" stroke="#666" stroke-width="0.5"/>
<text x="201.8" y="430.17" font-size="5.2" text-anchor="end" class="tk s">0</text>
<line x1="203.3" y1="413.8" x2="204.5" y2="413.8" stroke="#666" stroke-width="0.5"/>
<line x1="266.4" y1="413.8" x2="265.2" y2="413.8" stroke="#666" stroke-width="0.5"/>
<text x="201.8" y="415.67" font-size="5.2" text-anchor="end" class="tk s">20</text>
<text x="234.85" y="454.6" font-size="5.2" text-anchor="middle" class="tk s">t (s)</text>
<text x="192.3" y="428.3" font-size="5.2" text-anchor="middle" class="tk s" transform="rotate(-90 192.3 428.3)">θ (°)</text>
<line x1="293.3" y1="428.5" x2="356.4" y2="428.5" stroke="#aaa" stroke-width="0.7" stroke-dasharray="1 2"/>
<clipPath id="c594"><rect x="293.3" y="414" width="63.1" height="29"/></clipPath>
<polyline clip-path="url(#c594)" points="293.3,428.5 294.23,426.76 295.16,430.68 296.45,433.57 297.48,426.32 298.4,428.5 299.7,428.5 300.17,423.43 300.72,429.66 301.19,428.21 302.21,428.5 302.67,423.43 303.23,429.66 303.69,428.21 304.81,428.5 305.27,423.43 305.83,429.66 306.29,428.21 307.31,428.5 307.78,423.43 308.33,429.66 308.8,428.21 309.54,428.5 310,423.43 310.56,429.66 311.02,428.21 311.86,428.5 312.32,423.43 312.88,429.66 313.34,428.21 315.11,427.63 316.03,428.5 316.96,429.23 317.89,428.5 318.82,427.63 319.75,428.5 320.67,429.23 321.6,428.5 322.53,427.63 323.46,428.5 324.39,429.23 325.31,428.5 326.24,427.63 327.17,428.5 328.1,429.23 329.03,428.5 329.95,427.63 330.88,428.5 331.81,429.23 332.74,428.5 333.29,426.76 333.9,428.94 335.06,429.08 335.61,426.76 336.22,428.94 337.38,429.08 337.93,426.76 338.54,428.94 339.7,429.08 340.25,426.76 340.86,428.94 342.02,429.08 342.57,426.76 343.18,428.94 344.34,429.08 344.89,426.76 345.5,428.94 346.66,429.08 347.21,426.76 347.82,428.94 348.98,429.08 349.53,426.76 350.14,428.94 351.3,429.08 351.85,426.76 352.46,428.94 353.62,429.08 354.17,426.76 354.78,428.94 355.94,429.08" fill="none" stroke="#1a1aff" stroke-width="1.2" stroke-linejoin="round"/>
<rect x="293.3" y="414" width="63.1" height="29" fill="none" stroke="#777" stroke-width="0.8"/>
<line x1="293.3" y1="443" x2="293.3" y2="441.8" stroke="#666" stroke-width="0.5"/>
<line x1="293.3" y1="414" x2="293.3" y2="415.2" stroke="#666" stroke-width="0.5"/>
<text x="293.3" y="448.74" font-size="5.2" text-anchor="middle" class="tk s">0</text>
<line x1="311.86" y1="443" x2="311.86" y2="441.8" stroke="#666" stroke-width="0.5"/>
<line x1="311.86" y1="414" x2="311.86" y2="415.2" stroke="#666" stroke-width="0.5"/>
<text x="311.86" y="448.74" font-size="5.2" text-anchor="middle" class="tk s">20</text>
<line x1="330.42" y1="443" x2="330.42" y2="441.8" stroke="#666" stroke-width="0.5"/>
<line x1="330.42" y1="414" x2="330.42" y2="415.2" stroke="#666" stroke-width="0.5"/>
<text x="330.42" y="448.74" font-size="5.2" text-anchor="middle" class="tk s">40</text>
<line x1="348.98" y1="443" x2="348.98" y2="441.8" stroke="#666" stroke-width="0.5"/>
<line x1="348.98" y1="414" x2="348.98" y2="415.2" stroke="#666" stroke-width="0.5"/>
<text x="348.98" y="448.74" font-size="5.2" text-anchor="middle" class="tk s">60</text>
<line x1="293.3" y1="443" x2="294.5" y2="443" stroke="#666" stroke-width="0.5"/>
<line x1="356.4" y1="443" x2="355.2" y2="443" stroke="#666" stroke-width="0.5"/>
<text x="291.8" y="444.87" font-size="5.2" text-anchor="end" class="tk s">-100</text>
<line x1="293.3" y1="428.5" x2="294.5" y2="428.5" stroke="#666" stroke-width="0.5"/>
<line x1="356.4" y1="428.5" x2="355.2" y2="428.5" stroke="#666" stroke-width="0.5"/>
<text x="291.8" y="430.37" font-size="5.2" text-anchor="end" class="tk s">0</text>
<line x1="293.3" y1="414" x2="294.5" y2="414" stroke="#666" stroke-width="0.5"/>
<line x1="356.4" y1="414" x2="355.2" y2="414" stroke="#666" stroke-width="0.5"/>
<text x="291.8" y="415.87" font-size="5.2" text-anchor="end" class="tk s">100</text>
<text x="324.85" y="454.8" font-size="5.2" text-anchor="middle" class="tk s">t (s)</text>
<text x="274.8" y="428.5" font-size="5.2" text-anchor="middle" class="tk s" transform="rotate(-90 274.8 428.5)">v<tspan font-size="0.75em" dy="0.35em">θ</tspan><tspan dy="-0.35em"> (°/s)</tspan></text>
<line x1="390.9" y1="228.85" x2="455.2" y2="228.85" stroke="#aaa" stroke-width="0.7" stroke-dasharray="1 2"/>
<clipPath id="c621"><rect x="390.9" y="216.4" width="64.3" height="24.9"/></clipPath>
<polyline clip-path="url(#c621)" points="390.9,222.62 395.39,220.14 398.38,218.89 401.37,216.4 404.36,220.14 407.35,221.38 410.34,221.38 413.33,222.62 416.32,226.36 420.81,226.36 423.8,226.98 428.28,227.61 432.77,227.61 437.26,228.85 441.74,230.09 446.23,230.09 449.22,231.34 452.21,233.83 455.2,233.83" fill="none" stroke="#1a1aff" stroke-width="2.0" stroke-linejoin="round"/>
<rect x="390.9" y="216.4" width="64.3" height="24.9" fill="none" stroke="#666" stroke-width="1"/>
<line x1="390.9" y1="241.3" x2="390.9" y2="240.1" stroke="#666" stroke-width="0.5"/>
<line x1="390.9" y1="216.4" x2="390.9" y2="217.6" stroke="#666" stroke-width="0.5"/>
<text x="390.9" y="249.25" font-size="7" text-anchor="middle" class="tk" transform="translate(390.9 249.25) scale(0.85 1) translate(-390.9 -249.25)">0</text>
<line x1="420.81" y1="241.3" x2="420.81" y2="240.1" stroke="#666" stroke-width="0.5"/>
<line x1="420.81" y1="216.4" x2="420.81" y2="217.6" stroke="#666" stroke-width="0.5"/>
<text x="420.81" y="249.25" font-size="7" text-anchor="middle" class="tk" transform="translate(420.81 249.25) scale(0.85 1) translate(-420.81 -249.25)">20</text>
<line x1="450.71" y1="241.3" x2="450.71" y2="240.1" stroke="#666" stroke-width="0.5"/>
<line x1="450.71" y1="216.4" x2="450.71" y2="217.6" stroke="#666" stroke-width="0.5"/>
<text x="450.71" y="249.25" font-size="7" text-anchor="middle" class="tk" transform="translate(450.71 249.25) scale(0.85 1) translate(-450.71 -249.25)">40</text>
<line x1="390.9" y1="241.3" x2="392.1" y2="241.3" stroke="#666" stroke-width="0.5"/>
<line x1="455.2" y1="241.3" x2="454" y2="241.3" stroke="#666" stroke-width="0.5"/>
<text x="389.4" y="243.82" font-size="7" text-anchor="end" class="tk" transform="translate(389.4 243.82) scale(0.85 1) translate(-389.4 -243.82)">-10</text>
<line x1="390.9" y1="228.85" x2="392.1" y2="228.85" stroke="#666" stroke-width="0.5"/>
<line x1="455.2" y1="228.85" x2="454" y2="228.85" stroke="#666" stroke-width="0.5"/>
<text x="389.4" y="231.37" font-size="7" text-anchor="end" class="tk" transform="translate(389.4 231.37) scale(0.85 1) translate(-389.4 -231.37)">0</text>
<line x1="390.9" y1="216.4" x2="392.1" y2="216.4" stroke="#666" stroke-width="0.5"/>
<line x1="455.2" y1="216.4" x2="454" y2="216.4" stroke="#666" stroke-width="0.5"/>
<text x="389.4" y="218.92" font-size="7" text-anchor="end" class="tk" transform="translate(389.4 218.92) scale(0.85 1) translate(-389.4 -218.92)">10</text>
<text x="423.05" y="257.85" font-size="7" text-anchor="middle" class="tk" transform="translate(423.05 257.85) scale(0.85 1) translate(-423.05 -257.85)">t (s)</text>
<text x="377.4" y="228.85" font-size="7" text-anchor="middle" class="tk" transform="rotate(-90 377.4 228.85)">x (m)</text>
<line x1="477.5" y1="228.85" x2="541.4" y2="228.85" stroke="#aaa" stroke-width="0.7" stroke-dasharray="1 2"/>
<clipPath id="c645"><rect x="477.5" y="216.4" width="63.9" height="24.9"/></clipPath>
<polyline clip-path="url(#c645)" points="477.5,228.85 478.56,222 480.69,227.61 482.82,222 484.95,228.85 486.45,240.68 488.68,227.61 490.81,228.85 491.88,228.85 493.9,241.3 495.61,228.85 497.2,228.23 498.8,228.85 500.72,231.96 502.53,228.85 504.12,229.47 505.19,228.85 506.79,232.59 508.38,228.85 509.98,228.23 511.05,228.85 512.96,233.21 514.77,228.23 516.37,228.85 518.4,240.06 520.1,228.23 521.7,228.85 523.29,228.85" fill="none" stroke="#1a1aff" stroke-width="2.0" stroke-linejoin="round"/>
<rect x="477.5" y="216.4" width="63.9" height="24.9" fill="none" stroke="#666" stroke-width="1"/>
<line x1="477.5" y1="241.3" x2="477.5" y2="240.1" stroke="#666" stroke-width="0.5"/>
<line x1="477.5" y1="216.4" x2="477.5" y2="217.6" stroke="#666" stroke-width="0.5"/>
<text x="477.5" y="249.25" font-size="7" text-anchor="middle" class="tk" transform="translate(477.5 249.25) scale(0.85 1) translate(-477.5 -249.25)">0</text>
<line x1="498.8" y1="241.3" x2="498.8" y2="240.1" stroke="#666" stroke-width="0.5"/>
<line x1="498.8" y1="216.4" x2="498.8" y2="217.6" stroke="#666" stroke-width="0.5"/>
<text x="498.8" y="249.25" font-size="7" text-anchor="middle" class="tk" transform="translate(498.8 249.25) scale(0.85 1) translate(-498.8 -249.25)">20</text>
<line x1="520.1" y1="241.3" x2="520.1" y2="240.1" stroke="#666" stroke-width="0.5"/>
<line x1="520.1" y1="216.4" x2="520.1" y2="217.6" stroke="#666" stroke-width="0.5"/>
<text x="520.1" y="249.25" font-size="7" text-anchor="middle" class="tk" transform="translate(520.1 249.25) scale(0.85 1) translate(-520.1 -249.25)">40</text>
<line x1="541.4" y1="241.3" x2="541.4" y2="240.1" stroke="#666" stroke-width="0.5"/>
<line x1="541.4" y1="216.4" x2="541.4" y2="217.6" stroke="#666" stroke-width="0.5"/>
<text x="541.4" y="249.25" font-size="7" text-anchor="middle" class="tk" transform="translate(541.4 249.25) scale(0.85 1) translate(-541.4 -249.25)">60</text>
<line x1="477.5" y1="241.3" x2="478.7" y2="241.3" stroke="#666" stroke-width="0.5"/>
<line x1="541.4" y1="241.3" x2="540.2" y2="241.3" stroke="#666" stroke-width="0.5"/>
<text x="476" y="243.82" font-size="7" text-anchor="end" class="tk" transform="translate(476 243.82) scale(0.85 1) translate(-476 -243.82)">-2</text>
<line x1="477.5" y1="228.85" x2="478.7" y2="228.85" stroke="#666" stroke-width="0.5"/>
<line x1="541.4" y1="228.85" x2="540.2" y2="228.85" stroke="#666" stroke-width="0.5"/>
<text x="476" y="231.37" font-size="7" text-anchor="end" class="tk" transform="translate(476 231.37) scale(0.85 1) translate(-476 -231.37)">0</text>
<line x1="477.5" y1="216.4" x2="478.7" y2="216.4" stroke="#666" stroke-width="0.5"/>
<line x1="541.4" y1="216.4" x2="540.2" y2="216.4" stroke="#666" stroke-width="0.5"/>
<text x="476" y="218.92" font-size="7" text-anchor="end" class="tk" transform="translate(476 218.92) scale(0.85 1) translate(-476 -218.92)">2</text>
<text x="509.45" y="257.85" font-size="7" text-anchor="middle" class="tk" transform="translate(509.45 257.85) scale(0.85 1) translate(-509.45 -257.85)">t (s)</text>
<text x="464" y="228.85" font-size="7" text-anchor="middle" class="tk" transform="rotate(-90 464 228.85)">v<tspan font-size="0.75em" dy="0.35em">x</tspan><tspan dy="-0.35em"> (m/s)</tspan></text>
<line x1="390.9" y1="277" x2="455.2" y2="277" stroke="#aaa" stroke-width="0.7" stroke-dasharray="1 2"/>
<clipPath id="c672"><rect x="390.9" y="264.5" width="64.3" height="25"/></clipPath>
<polyline clip-path="url(#c672)" points="390.9,280.12 395.39,281.38 401.37,282.62 408.84,282.25 416.32,281.75 420.81,281.38 423.8,278.88 429.78,278.25 432.77,277 435.76,276.38 438.75,276.38 441.74,274.5 446.23,274.5 449.22,273.25 450.71,270.12 455.2,270.12" fill="none" stroke="#1a1aff" stroke-width="2.0" stroke-linejoin="round"/>
<rect x="390.9" y="264.5" width="64.3" height="25" fill="none" stroke="#666" stroke-width="1"/>
<line x1="390.9" y1="289.5" x2="390.9" y2="288.3" stroke="#666" stroke-width="0.5"/>
<line x1="390.9" y1="264.5" x2="390.9" y2="265.7" stroke="#666" stroke-width="0.5"/>
<text x="390.9" y="297.45" font-size="7" text-anchor="middle" class="tk" transform="translate(390.9 297.45) scale(0.85 1) translate(-390.9 -297.45)">0</text>
<line x1="420.81" y1="289.5" x2="420.81" y2="288.3" stroke="#666" stroke-width="0.5"/>
<line x1="420.81" y1="264.5" x2="420.81" y2="265.7" stroke="#666" stroke-width="0.5"/>
<text x="420.81" y="297.45" font-size="7" text-anchor="middle" class="tk" transform="translate(420.81 297.45) scale(0.85 1) translate(-420.81 -297.45)">20</text>
<line x1="450.71" y1="289.5" x2="450.71" y2="288.3" stroke="#666" stroke-width="0.5"/>
<line x1="450.71" y1="264.5" x2="450.71" y2="265.7" stroke="#666" stroke-width="0.5"/>
<text x="450.71" y="297.45" font-size="7" text-anchor="middle" class="tk" transform="translate(450.71 297.45) scale(0.85 1) translate(-450.71 -297.45)">40</text>
<line x1="390.9" y1="289.5" x2="392.1" y2="289.5" stroke="#666" stroke-width="0.5"/>
<line x1="455.2" y1="289.5" x2="454" y2="289.5" stroke="#666" stroke-width="0.5"/>
<text x="389.4" y="292.02" font-size="7" text-anchor="end" class="tk" transform="translate(389.4 292.02) scale(0.85 1) translate(-389.4 -292.02)">-10</text>
<line x1="390.9" y1="277" x2="392.1" y2="277" stroke="#666" stroke-width="0.5"/>
<line x1="455.2" y1="277" x2="454" y2="277" stroke="#666" stroke-width="0.5"/>
<text x="389.4" y="279.52" font-size="7" text-anchor="end" class="tk" transform="translate(389.4 279.52) scale(0.85 1) translate(-389.4 -279.52)">0</text>
<line x1="390.9" y1="264.5" x2="392.1" y2="264.5" stroke="#666" stroke-width="0.5"/>
<line x1="455.2" y1="264.5" x2="454" y2="264.5" stroke="#666" stroke-width="0.5"/>
<text x="389.4" y="267.02" font-size="7" text-anchor="end" class="tk" transform="translate(389.4 267.02) scale(0.85 1) translate(-389.4 -267.02)">10</text>
<text x="423.05" y="306.05" font-size="7" text-anchor="middle" class="tk" transform="translate(423.05 306.05) scale(0.85 1) translate(-423.05 -306.05)">t (s)</text>
<text x="377.4" y="277" font-size="7" text-anchor="middle" class="tk" transform="rotate(-90 377.4 277)">y (m)</text>
<line x1="477.5" y1="277" x2="541.4" y2="277" stroke="#aaa" stroke-width="0.7" stroke-dasharray="1 2"/>
<clipPath id="c696"><rect x="477.5" y="264.5" width="63.9" height="25"/></clipPath>
<polyline clip-path="url(#c696)" points="477.5,278.25 478.56,280.12 479.63,278.25 480.69,277.62 481.76,278.88 482.82,280.75 483.89,278.88 484.95,277 486.02,276.06 487.08,275.12 488.15,276.06 490.28,276.38 492.41,275.75 493.48,275.12 494.54,276.06 496.67,275.75 498.27,275.75 499.33,270.75 500.18,265.12 500.93,272 501.46,275.75 503.06,275.75 504.12,276.38 505.72,273.88 506.89,271.38 507.85,274.5 508.38,277 509.45,275.75 511.05,274.5 512.75,271.38 513.71,273.88 514.77,275.75 515.84,276.38 516.9,272 518.72,264.5 519.57,270.75 520.31,276.38 521.16,277 522.23,276.38 523.29,276.38" fill="none" stroke="#1a1aff" stroke-width="2.0" stroke-linejoin="round"/>
<rect x="477.5" y="264.5" width="63.9" height="25" fill="none" stroke="#666" stroke-width="1"/>
<line x1="477.5" y1="289.5" x2="477.5" y2="288.3" stroke="#666" stroke-width="0.5"/>
<line x1="477.5" y1="264.5" x2="477.5" y2="265.7" stroke="#666" stroke-width="0.5"/>
<text x="477.5" y="297.45" font-size="7" text-anchor="middle" class="tk" transform="translate(477.5 297.45) scale(0.85 1) translate(-477.5 -297.45)">0</text>
<line x1="498.8" y1="289.5" x2="498.8" y2="288.3" stroke="#666" stroke-width="0.5"/>
<line x1="498.8" y1="264.5" x2="498.8" y2="265.7" stroke="#666" stroke-width="0.5"/>
<text x="498.8" y="297.45" font-size="7" text-anchor="middle" class="tk" transform="translate(498.8 297.45) scale(0.85 1) translate(-498.8 -297.45)">20</text>
<line x1="520.1" y1="289.5" x2="520.1" y2="288.3" stroke="#666" stroke-width="0.5"/>
<line x1="520.1" y1="264.5" x2="520.1" y2="265.7" stroke="#666" stroke-width="0.5"/>
<text x="520.1" y="297.45" font-size="7" text-anchor="middle" class="tk" transform="translate(520.1 297.45) scale(0.85 1) translate(-520.1 -297.45)">40</text>
<line x1="541.4" y1="289.5" x2="541.4" y2="288.3" stroke="#666" stroke-width="0.5"/>
<line x1="541.4" y1="264.5" x2="541.4" y2="265.7" stroke="#666" stroke-width="0.5"/>
<text x="541.4" y="297.45" font-size="7" text-anchor="middle" class="tk" transform="translate(541.4 297.45) scale(0.85 1) translate(-541.4 -297.45)">60</text>
<line x1="477.5" y1="289.5" x2="478.7" y2="289.5" stroke="#666" stroke-width="0.5"/>
<line x1="541.4" y1="289.5" x2="540.2" y2="289.5" stroke="#666" stroke-width="0.5"/>
<text x="476" y="292.02" font-size="7" text-anchor="end" class="tk" transform="translate(476 292.02) scale(0.85 1) translate(-476 -292.02)">-2</text>
<line x1="477.5" y1="277" x2="478.7" y2="277" stroke="#666" stroke-width="0.5"/>
<line x1="541.4" y1="277" x2="540.2" y2="277" stroke="#666" stroke-width="0.5"/>
<text x="476" y="279.52" font-size="7" text-anchor="end" class="tk" transform="translate(476 279.52) scale(0.85 1) translate(-476 -279.52)">0</text>
<line x1="477.5" y1="264.5" x2="478.7" y2="264.5" stroke="#666" stroke-width="0.5"/>
<line x1="541.4" y1="264.5" x2="540.2" y2="264.5" stroke="#666" stroke-width="0.5"/>
<text x="476" y="267.02" font-size="7" text-anchor="end" class="tk" transform="translate(476 267.02) scale(0.85 1) translate(-476 -267.02)">2</text>
<text x="509.45" y="306.05" font-size="7" text-anchor="middle" class="tk" transform="translate(509.45 306.05) scale(0.85 1) translate(-509.45 -306.05)">t (s)</text>
<text x="464" y="277" font-size="7" text-anchor="middle" class="tk" transform="rotate(-90 464 277)">v<tspan font-size="0.75em" dy="0.35em">y</tspan><tspan dy="-0.35em"> (m/s)</tspan></text>
<line x1="390.9" y1="325.15" x2="455.2" y2="325.15" stroke="#aaa" stroke-width="0.7" stroke-dasharray="1 2"/>
<clipPath id="c723"><rect x="390.9" y="312.7" width="64.3" height="24.9"/></clipPath>
<polyline clip-path="url(#c723)" points="390.9,332 396.88,330.13 401.37,328.26 404.36,332.62 410.34,333.24 413.33,337.6 419.31,337.6 422.3,336.98 423.8,326.39 426.79,323.28 429.78,322.66 432.77,324.53 437.26,325.15 440.25,327.02 444.73,328.26 447.72,333.24 455.2,333.87" fill="none" stroke="#1a1aff" stroke-width="2.0" stroke-linejoin="round"/>
<rect x="390.9" y="312.7" width="64.3" height="24.9" fill="none" stroke="#666" stroke-width="1"/>
<line x1="390.9" y1="337.6" x2="390.9" y2="336.4" stroke="#666" stroke-width="0.5"/>
<line x1="390.9" y1="312.7" x2="390.9" y2="313.9" stroke="#666" stroke-width="0.5"/>
<text x="390.9" y="345.55" font-size="7" text-anchor="middle" class="tk" transform="translate(390.9 345.55) scale(0.85 1) translate(-390.9 -345.55)">0</text>
<line x1="420.81" y1="337.6" x2="420.81" y2="336.4" stroke="#666" stroke-width="0.5"/>
<line x1="420.81" y1="312.7" x2="420.81" y2="313.9" stroke="#666" stroke-width="0.5"/>
<text x="420.81" y="345.55" font-size="7" text-anchor="middle" class="tk" transform="translate(420.81 345.55) scale(0.85 1) translate(-420.81 -345.55)">20</text>
<line x1="450.71" y1="337.6" x2="450.71" y2="336.4" stroke="#666" stroke-width="0.5"/>
<line x1="450.71" y1="312.7" x2="450.71" y2="313.9" stroke="#666" stroke-width="0.5"/>
<text x="450.71" y="345.55" font-size="7" text-anchor="middle" class="tk" transform="translate(450.71 345.55) scale(0.85 1) translate(-450.71 -345.55)">40</text>
<line x1="390.9" y1="337.6" x2="392.1" y2="337.6" stroke="#666" stroke-width="0.5"/>
<line x1="455.2" y1="337.6" x2="454" y2="337.6" stroke="#666" stroke-width="0.5"/>
<text x="389.4" y="340.12" font-size="7" text-anchor="end" class="tk" transform="translate(389.4 340.12) scale(0.85 1) translate(-389.4 -340.12)">0</text>
<line x1="390.9" y1="325.15" x2="392.1" y2="325.15" stroke="#666" stroke-width="0.5"/>
<line x1="455.2" y1="325.15" x2="454" y2="325.15" stroke="#666" stroke-width="0.5"/>
<text x="389.4" y="327.67" font-size="7" text-anchor="end" class="tk" transform="translate(389.4 327.67) scale(0.85 1) translate(-389.4 -327.67)">2</text>
<line x1="390.9" y1="312.7" x2="392.1" y2="312.7" stroke="#666" stroke-width="0.5"/>
<line x1="455.2" y1="312.7" x2="454" y2="312.7" stroke="#666" stroke-width="0.5"/>
<text x="389.4" y="315.22" font-size="7" text-anchor="end" class="tk" transform="translate(389.4 315.22) scale(0.85 1) translate(-389.4 -315.22)">4</text>
<text x="423.05" y="354.15" font-size="7" text-anchor="middle" class="tk" transform="translate(423.05 354.15) scale(0.85 1) translate(-423.05 -354.15)">t (s)</text>
<text x="377.4" y="325.15" font-size="7" text-anchor="middle" class="tk" transform="rotate(-90 377.4 325.15)">z (m)</text>
<line x1="477.5" y1="325.15" x2="541.4" y2="325.15" stroke="#aaa" stroke-width="0.7" stroke-dasharray="1 2"/>
<clipPath id="c747"><rect x="477.5" y="312.7" width="63.9" height="24.9"/></clipPath>
<polyline clip-path="url(#c747)" points="477.5,324.53 483.89,324.53 484.95,327.02 486.02,325.77 491.34,325.77 492.41,327.64 493.48,325.15 498.8,325.15 499.87,316.44 500.93,323.28 503.06,325.15 505.19,326.39 508.38,325.15 510.51,326.39 512.64,325.15 515.84,325.77 516.9,327.64 517.97,325.15 523.29,325.15" fill="none" stroke="#1a1aff" stroke-width="2.0" stroke-linejoin="round"/>
<rect x="477.5" y="312.7" width="63.9" height="24.9" fill="none" stroke="#666" stroke-width="1"/>
<line x1="477.5" y1="337.6" x2="477.5" y2="336.4" stroke="#666" stroke-width="0.5"/>
<line x1="477.5" y1="312.7" x2="477.5" y2="313.9" stroke="#666" stroke-width="0.5"/>
<text x="477.5" y="345.55" font-size="7" text-anchor="middle" class="tk" transform="translate(477.5 345.55) scale(0.85 1) translate(-477.5 -345.55)">0</text>
<line x1="498.8" y1="337.6" x2="498.8" y2="336.4" stroke="#666" stroke-width="0.5"/>
<line x1="498.8" y1="312.7" x2="498.8" y2="313.9" stroke="#666" stroke-width="0.5"/>
<text x="498.8" y="345.55" font-size="7" text-anchor="middle" class="tk" transform="translate(498.8 345.55) scale(0.85 1) translate(-498.8 -345.55)">20</text>
<line x1="520.1" y1="337.6" x2="520.1" y2="336.4" stroke="#666" stroke-width="0.5"/>
<line x1="520.1" y1="312.7" x2="520.1" y2="313.9" stroke="#666" stroke-width="0.5"/>
<text x="520.1" y="345.55" font-size="7" text-anchor="middle" class="tk" transform="translate(520.1 345.55) scale(0.85 1) translate(-520.1 -345.55)">40</text>
<line x1="541.4" y1="337.6" x2="541.4" y2="336.4" stroke="#666" stroke-width="0.5"/>
<line x1="541.4" y1="312.7" x2="541.4" y2="313.9" stroke="#666" stroke-width="0.5"/>
<text x="541.4" y="345.55" font-size="7" text-anchor="middle" class="tk" transform="translate(541.4 345.55) scale(0.85 1) translate(-541.4 -345.55)">60</text>
<line x1="477.5" y1="337.6" x2="478.7" y2="337.6" stroke="#666" stroke-width="0.5"/>
<line x1="541.4" y1="337.6" x2="540.2" y2="337.6" stroke="#666" stroke-width="0.5"/>
<text x="476" y="340.12" font-size="7" text-anchor="end" class="tk" transform="translate(476 340.12) scale(0.85 1) translate(-476 -340.12)">-2</text>
<line x1="477.5" y1="325.15" x2="478.7" y2="325.15" stroke="#666" stroke-width="0.5"/>
<line x1="541.4" y1="325.15" x2="540.2" y2="325.15" stroke="#666" stroke-width="0.5"/>
<text x="476" y="327.67" font-size="7" text-anchor="end" class="tk" transform="translate(476 327.67) scale(0.85 1) translate(-476 -327.67)">0</text>
<line x1="477.5" y1="312.7" x2="478.7" y2="312.7" stroke="#666" stroke-width="0.5"/>
<line x1="541.4" y1="312.7" x2="540.2" y2="312.7" stroke="#666" stroke-width="0.5"/>
<text x="476" y="315.22" font-size="7" text-anchor="end" class="tk" transform="translate(476 315.22) scale(0.85 1) translate(-476 -315.22)">2</text>
<text x="509.45" y="354.15" font-size="7" text-anchor="middle" class="tk" transform="translate(509.45 354.15) scale(0.85 1) translate(-509.45 -354.15)">t (s)</text>
<text x="464" y="325.15" font-size="7" text-anchor="middle" class="tk" transform="rotate(-90 464 325.15)">v<tspan font-size="0.75em" dy="0.35em">z</tspan><tspan dy="-0.35em"> (m/s)</tspan></text>
<line x1="386.2" y1="393.1" x2="452.4" y2="393.1" stroke="#aaa" stroke-width="0.7" stroke-dasharray="1 2"/>
<line x1="386.2" y1="384.9" x2="452.4" y2="384.9" stroke="#aaa" stroke-width="0.7" stroke-dasharray="1 2"/>
<line x1="386.2" y1="376.7" x2="452.4" y2="376.7" stroke="#aaa" stroke-width="0.7" stroke-dasharray="1 2"/>
<clipPath id="c776"><rect x="386.2" y="368.5" width="66.2" height="32.8"/></clipPath>
<polyline clip-path="url(#c776)" points="386.2,381.87 387.3,384.08 388.41,386.38 390.39,381.87 392.27,386.38 393.92,385.31 396.13,384.65 398.34,384.08 400.54,385.31 402.75,384.49 404.96,384.08 407.16,384.9 408.49,384.9 409.37,398.43 410.25,374.32 412.57,384.9 415.11,391.38 417.2,381.87 419.3,384.9 421.4,391.38 422.94,381.87 425.81,385.39 427.13,400.48 428.68,375.39 431.22,385.88 433.53,384.41" fill="none" stroke="#1a1aff" stroke-width="1.2" stroke-linejoin="round"/>
<rect x="386.2" y="368.5" width="66.2" height="32.8" fill="none" stroke="#777" stroke-width="0.8"/>
<line x1="386.2" y1="401.3" x2="386.2" y2="400.1" stroke="#666" stroke-width="0.5"/>
<line x1="386.2" y1="368.5" x2="386.2" y2="369.7" stroke="#666" stroke-width="0.5"/>
<text x="386.2" y="407.04" font-size="5.2" text-anchor="middle" class="tk s">0</text>
<line x1="408.27" y1="401.3" x2="408.27" y2="400.1" stroke="#666" stroke-width="0.5"/>
<line x1="408.27" y1="368.5" x2="408.27" y2="369.7" stroke="#666" stroke-width="0.5"/>
<text x="408.27" y="407.04" font-size="5.2" text-anchor="middle" class="tk s">20</text>
<line x1="430.33" y1="401.3" x2="430.33" y2="400.1" stroke="#666" stroke-width="0.5"/>
<line x1="430.33" y1="368.5" x2="430.33" y2="369.7" stroke="#666" stroke-width="0.5"/>
<text x="430.33" y="407.04" font-size="5.2" text-anchor="middle" class="tk s">40</text>
<line x1="452.4" y1="401.3" x2="452.4" y2="400.1" stroke="#666" stroke-width="0.5"/>
<line x1="452.4" y1="368.5" x2="452.4" y2="369.7" stroke="#666" stroke-width="0.5"/>
<text x="452.4" y="407.04" font-size="5.2" text-anchor="middle" class="tk s">60</text>
<line x1="386.2" y1="401.3" x2="387.4" y2="401.3" stroke="#666" stroke-width="0.5"/>
<line x1="452.4" y1="401.3" x2="451.2" y2="401.3" stroke="#666" stroke-width="0.5"/>
<text x="384.7" y="403.17" font-size="5.2" text-anchor="end" class="tk s">-20</text>
<line x1="386.2" y1="393.1" x2="387.4" y2="393.1" stroke="#666" stroke-width="0.5"/>
<line x1="452.4" y1="393.1" x2="451.2" y2="393.1" stroke="#666" stroke-width="0.5"/>
<text x="384.7" y="394.97" font-size="5.2" text-anchor="end" class="tk s">-10</text>
<line x1="386.2" y1="384.9" x2="387.4" y2="384.9" stroke="#666" stroke-width="0.5"/>
<line x1="452.4" y1="384.9" x2="451.2" y2="384.9" stroke="#666" stroke-width="0.5"/>
<text x="384.7" y="386.77" font-size="5.2" text-anchor="end" class="tk s">0</text>
<line x1="386.2" y1="376.7" x2="387.4" y2="376.7" stroke="#666" stroke-width="0.5"/>
<line x1="452.4" y1="376.7" x2="451.2" y2="376.7" stroke="#666" stroke-width="0.5"/>
<text x="384.7" y="378.57" font-size="5.2" text-anchor="end" class="tk s">10</text>
<line x1="386.2" y1="368.5" x2="387.4" y2="368.5" stroke="#666" stroke-width="0.5"/>
<line x1="452.4" y1="368.5" x2="451.2" y2="368.5" stroke="#666" stroke-width="0.5"/>
<text x="384.7" y="370.37" font-size="5.2" text-anchor="end" class="tk s">20</text>
<text x="419.3" y="409.8" font-size="5.2" text-anchor="middle" class="tk s">s</text>
<text x="372.2" y="384.9" font-size="5.2" text-anchor="middle" class="tk s" transform="rotate(-90 372.2 384.9)">φ (°)</text>
<text x="419.3" y="366.9" font-size="5.1" text-anchor="middle" class="tt">Angular position over time</text>
<line x1="476.5" y1="393.1" x2="542.3" y2="393.1" stroke="#aaa" stroke-width="0.7" stroke-dasharray="1 2"/>
<line x1="476.5" y1="384.9" x2="542.3" y2="384.9" stroke="#aaa" stroke-width="0.7" stroke-dasharray="1 2"/>
<line x1="476.5" y1="376.7" x2="542.3" y2="376.7" stroke="#aaa" stroke-width="0.7" stroke-dasharray="1 2"/>
<clipPath id="c812"><rect x="476.5" y="368.5" width="65.8" height="32.8"/></clipPath>
<polyline clip-path="url(#c812)" points="476.5,383.26 477.6,385.72 478.69,384.9 479.79,386.21 480.89,382.44 481.98,385.72 483.08,384.9 485.27,384.08 487.47,384.9 491.85,384.9 498.43,384.9 499.53,391.46 500.63,375.06 501.72,388.18 502.82,384.9 503.92,383.26 505.01,389.82 506.11,383.26 507.21,384.9 510.5,389.82 511.59,382.44 512.69,384.9 515.98,383.26 517.08,394.74 518.17,379.98 519.27,384.9 521.46,384.08 523.66,384.9" fill="none" stroke="#1a1aff" stroke-width="1.2" stroke-linejoin="round"/>
<rect x="476.5" y="368.5" width="65.8" height="32.8" fill="none" stroke="#777" stroke-width="0.8"/>
<line x1="476.5" y1="401.3" x2="476.5" y2="400.1" stroke="#666" stroke-width="0.5"/>
<line x1="476.5" y1="368.5" x2="476.5" y2="369.7" stroke="#666" stroke-width="0.5"/>
<text x="476.5" y="407.04" font-size="5.2" text-anchor="middle" class="tk s">0</text>
<line x1="498.43" y1="401.3" x2="498.43" y2="400.1" stroke="#666" stroke-width="0.5"/>
<line x1="498.43" y1="368.5" x2="498.43" y2="369.7" stroke="#666" stroke-width="0.5"/>
<text x="498.43" y="407.04" font-size="5.2" text-anchor="middle" class="tk s">20</text>
<line x1="520.37" y1="401.3" x2="520.37" y2="400.1" stroke="#666" stroke-width="0.5"/>
<line x1="520.37" y1="368.5" x2="520.37" y2="369.7" stroke="#666" stroke-width="0.5"/>
<text x="520.37" y="407.04" font-size="5.2" text-anchor="middle" class="tk s">40</text>
<line x1="542.3" y1="401.3" x2="542.3" y2="400.1" stroke="#666" stroke-width="0.5"/>
<line x1="542.3" y1="368.5" x2="542.3" y2="369.7" stroke="#666" stroke-width="0.5"/>
<text x="542.3" y="407.04" font-size="5.2" text-anchor="middle" class="tk s">60</text>
<line x1="476.5" y1="401.3" x2="477.7" y2="401.3" stroke="#666" stroke-width="0.5"/>
<line x1="542.3" y1="401.3" x2="541.1" y2="401.3" stroke="#666" stroke-width="0.5"/>
<text x="475" y="403.17" font-size="5.2" text-anchor="end" class="tk s">-100</text>
<line x1="476.5" y1="393.1" x2="477.7" y2="393.1" stroke="#666" stroke-width="0.5"/>
<line x1="542.3" y1="393.1" x2="541.1" y2="393.1" stroke="#666" stroke-width="0.5"/>
<text x="475" y="394.97" font-size="5.2" text-anchor="end" class="tk s">-50</text>
<line x1="476.5" y1="384.9" x2="477.7" y2="384.9" stroke="#666" stroke-width="0.5"/>
<line x1="542.3" y1="384.9" x2="541.1" y2="384.9" stroke="#666" stroke-width="0.5"/>
<text x="475" y="386.77" font-size="5.2" text-anchor="end" class="tk s">0</text>
<line x1="476.5" y1="376.7" x2="477.7" y2="376.7" stroke="#666" stroke-width="0.5"/>
<line x1="542.3" y1="376.7" x2="541.1" y2="376.7" stroke="#666" stroke-width="0.5"/>
<text x="475" y="378.57" font-size="5.2" text-anchor="end" class="tk s">50</text>
<line x1="476.5" y1="368.5" x2="477.7" y2="368.5" stroke="#666" stroke-width="0.5"/>
<line x1="542.3" y1="368.5" x2="541.1" y2="368.5" stroke="#666" stroke-width="0.5"/>
<text x="475" y="370.37" font-size="5.2" text-anchor="end" class="tk s">100</text>
<text x="509.4" y="409.8" font-size="5.2" text-anchor="middle" class="tk s">s</text>
<text x="459.5" y="384.9" font-size="5.2" text-anchor="middle" class="tk s" transform="rotate(-90 459.5 384.9)">°/s</text>
<text x="509.4" y="366.9" font-size="5.1" text-anchor="middle" class="tt">Angular speed over time</text>
<line x1="386.2" y1="439.1" x2="452.6" y2="439.1" stroke="#aaa" stroke-width="0.7" stroke-dasharray="1 2"/>
<line x1="386.2" y1="430.9" x2="452.6" y2="430.9" stroke="#aaa" stroke-width="0.7" stroke-dasharray="1 2"/>
<line x1="386.2" y1="422.7" x2="452.6" y2="422.7" stroke="#aaa" stroke-width="0.7" stroke-dasharray="1 2"/>
<clipPath id="c848"><rect x="386.2" y="414.5" width="66.4" height="32.8"/></clipPath>
<polyline clip-path="url(#c848)" points="386.2,437.46 387.31,430.9 388.41,426.8 389.52,427.62 390.63,437.46 391.73,430.9 392.84,426.8 393.95,427.62 395.05,416.14 396.16,430.9 397.27,439.1 398.37,432.54 399.48,430.9 400.59,430.9 401.69,414.5 402.8,432.54 403.91,439.1 405.01,430.9 406.12,430.08 407.23,431.72 408.33,426.8 409.44,432.54 410.55,430.9 411.65,433.36 412.76,430.9 413.87,430.08 414.97,425.98 416.08,433.36 417.19,430.9 418.29,430.08 419.4,430.9 420.51,432.54 421.61,424.34 422.72,431.72 423.83,430.9 424.93,433.36 426.04,430.9 427.15,416.96 428.25,432.54 429.36,439.1 430.47,434.18 431.57,429.26 432.68,430.9 433.79,430.9" fill="none" stroke="#1a1aff" stroke-width="1.2" stroke-linejoin="round"/>
<rect x="386.2" y="414.5" width="66.4" height="32.8" fill="none" stroke="#777" stroke-width="0.8"/>
<line x1="386.2" y1="447.3" x2="386.2" y2="446.1" stroke="#666" stroke-width="0.5"/>
<line x1="386.2" y1="414.5" x2="386.2" y2="415.7" stroke="#666" stroke-width="0.5"/>
<text x="386.2" y="453.04" font-size="5.2" text-anchor="middle" class="tk s">0</text>
<line x1="408.33" y1="447.3" x2="408.33" y2="446.1" stroke="#666" stroke-width="0.5"/>
<line x1="408.33" y1="414.5" x2="408.33" y2="415.7" stroke="#666" stroke-width="0.5"/>
<text x="408.33" y="453.04" font-size="5.2" text-anchor="middle" class="tk s">20</text>
<line x1="430.47" y1="447.3" x2="430.47" y2="446.1" stroke="#666" stroke-width="0.5"/>
<line x1="430.47" y1="414.5" x2="430.47" y2="415.7" stroke="#666" stroke-width="0.5"/>
<text x="430.47" y="453.04" font-size="5.2" text-anchor="middle" class="tk s">40</text>
<line x1="452.6" y1="447.3" x2="452.6" y2="446.1" stroke="#666" stroke-width="0.5"/>
<line x1="452.6" y1="414.5" x2="452.6" y2="415.7" stroke="#666" stroke-width="0.5"/>
<text x="452.6" y="453.04" font-size="5.2" text-anchor="middle" class="tk s">60</text>
<line x1="386.2" y1="447.3" x2="387.4" y2="447.3" stroke="#666" stroke-width="0.5"/>
<line x1="452.6" y1="447.3" x2="451.4" y2="447.3" stroke="#666" stroke-width="0.5"/>
<text x="384.7" y="449.17" font-size="5.2" text-anchor="end" class="tk s">-20</text>
<line x1="386.2" y1="439.1" x2="387.4" y2="439.1" stroke="#666" stroke-width="0.5"/>
<line x1="452.6" y1="439.1" x2="451.4" y2="439.1" stroke="#666" stroke-width="0.5"/>
<text x="384.7" y="440.97" font-size="5.2" text-anchor="end" class="tk s">-10</text>
<line x1="386.2" y1="430.9" x2="387.4" y2="430.9" stroke="#666" stroke-width="0.5"/>
<line x1="452.6" y1="430.9" x2="451.4" y2="430.9" stroke="#666" stroke-width="0.5"/>
<text x="384.7" y="432.77" font-size="5.2" text-anchor="end" class="tk s">0</text>
<line x1="386.2" y1="422.7" x2="387.4" y2="422.7" stroke="#666" stroke-width="0.5"/>
<line x1="452.6" y1="422.7" x2="451.4" y2="422.7" stroke="#666" stroke-width="0.5"/>
<text x="384.7" y="424.57" font-size="5.2" text-anchor="end" class="tk s">10</text>
<line x1="386.2" y1="414.5" x2="387.4" y2="414.5" stroke="#666" stroke-width="0.5"/>
<line x1="452.6" y1="414.5" x2="451.4" y2="414.5" stroke="#666" stroke-width="0.5"/>
<text x="384.7" y="416.37" font-size="5.2" text-anchor="end" class="tk s">20</text>
<text x="419.4" y="455.8" font-size="5.2" text-anchor="middle" class="tk s">s</text>
<text x="372.2" y="430.9" font-size="5.2" text-anchor="middle" class="tk s" transform="rotate(-90 372.2 430.9)">θ (°)</text>
<line x1="476.2" y1="444.78" x2="543" y2="444.78" stroke="#aaa" stroke-width="0.7" stroke-dasharray="1 2"/>
<line x1="476.2" y1="432.16" x2="543" y2="432.16" stroke="#aaa" stroke-width="0.7" stroke-dasharray="1 2"/>
<line x1="476.2" y1="419.55" x2="543" y2="419.55" stroke="#aaa" stroke-width="0.7" stroke-dasharray="1 2"/>
<clipPath id="c883"><rect x="476.2" y="414.5" width="66.8" height="32.8"/></clipPath>
<polyline clip-path="url(#c883)" points="476.2,439.73 477.31,428.38 478.43,432.16 479.54,440.99 480.65,429.64 481.77,432.16 482.88,428.38 483.99,433.42 485.11,415.76 486.22,439.73 487.33,432.16 488.45,430.9 489.56,432.16 490.67,434.68 491.79,415.76 492.9,440.99 494.01,432.16 496.24,430.9 497.35,432.16 498.47,428.38 499.58,435.95 500.69,432.16 501.81,430.9 502.92,432.16 505.15,425.85 506.26,434.68 507.37,432.16 510.71,434.68 511.83,424.59 512.94,434.68 514.05,432.16 516.28,433.42 517.39,418.28 518.51,438.47 519.62,432.16 520.73,430.14 521.85,432.16 524.07,432.16" fill="none" stroke="#1a1aff" stroke-width="1.2" stroke-linejoin="round"/>
<rect x="476.2" y="414.5" width="66.8" height="32.8" fill="none" stroke="#777" stroke-width="0.8"/>
<line x1="476.2" y1="447.3" x2="476.2" y2="446.1" stroke="#666" stroke-width="0.5"/>
<line x1="476.2" y1="414.5" x2="476.2" y2="415.7" stroke="#666" stroke-width="0.5"/>
<text x="476.2" y="453.04" font-size="5.2" text-anchor="middle" class="tk s">0</text>
<line x1="498.47" y1="447.3" x2="498.47" y2="446.1" stroke="#666" stroke-width="0.5"/>
<line x1="498.47" y1="414.5" x2="498.47" y2="415.7" stroke="#666" stroke-width="0.5"/>
<text x="498.47" y="453.04" font-size="5.2" text-anchor="middle" class="tk s">20</text>
<line x1="520.73" y1="447.3" x2="520.73" y2="446.1" stroke="#666" stroke-width="0.5"/>
<line x1="520.73" y1="414.5" x2="520.73" y2="415.7" stroke="#666" stroke-width="0.5"/>
<text x="520.73" y="453.04" font-size="5.2" text-anchor="middle" class="tk s">40</text>
<line x1="543" y1="447.3" x2="543" y2="446.1" stroke="#666" stroke-width="0.5"/>
<line x1="543" y1="414.5" x2="543" y2="415.7" stroke="#666" stroke-width="0.5"/>
<text x="543" y="453.04" font-size="5.2" text-anchor="middle" class="tk s">60</text>
<line x1="476.2" y1="444.78" x2="477.4" y2="444.78" stroke="#666" stroke-width="0.5"/>
<line x1="543" y1="444.78" x2="541.8" y2="444.78" stroke="#666" stroke-width="0.5"/>
<text x="474.7" y="446.65" font-size="5.2" text-anchor="end" class="tk s">-50</text>
<line x1="476.2" y1="432.16" x2="477.4" y2="432.16" stroke="#666" stroke-width="0.5"/>
<line x1="543" y1="432.16" x2="541.8" y2="432.16" stroke="#666" stroke-width="0.5"/>
<text x="474.7" y="434.03" font-size="5.2" text-anchor="end" class="tk s">0</text>
<line x1="476.2" y1="419.55" x2="477.4" y2="419.55" stroke="#666" stroke-width="0.5"/>
<line x1="543" y1="419.55" x2="541.8" y2="419.55" stroke="#666" stroke-width="0.5"/>
<text x="474.7" y="421.42" font-size="5.2" text-anchor="end" class="tk s">50</text>
<text x="509.6" y="455.8" font-size="5.2" text-anchor="middle" class="tk s">s</text>
<text x="459.2" y="430.9" font-size="5.2" text-anchor="middle" class="tk s" transform="rotate(-90 459.2 430.9)">°/s</text>
<text x="94.5" y="202.3" font-size="11.5" text-anchor="middle" class="cap">(a) Experimental system</text>
<text x="312" y="202.3" font-size="11.5" text-anchor="middle" class="cap">(b) Position definition</text>
<text x="494.3" y="202.3" font-size="11.5" text-anchor="middle" class="cap">(c) Geometric model</text>
<text x="61.8" y="472.4" font-size="11.8" class="cap">(d)</text>
<text x="79.8" y="472.4" font-size="11.8" font-style="italic" class="cap">σ</text>
<text x="93.44999999999999" y="472.4" font-size="11.8" text-anchor="middle" class="cap" transform="translate(93.44999999999999 472.4) scale(1.15 1) translate(-93.44999999999999 -472.4)">=</text>
<text x="101.6" y="472.4" font-size="11.8" class="cap">1</text>
<text x="107" y="471.9" font-size="11" class="cap">°</text>
<text x="244.9" y="472.4" font-size="11.8" class="cap">(e)</text>
<text x="260.7" y="472.4" font-size="11.8" font-style="italic" class="cap">σ</text>
<text x="274.95000000000005" y="472.4" font-size="11.8" text-anchor="middle" class="cap" transform="translate(274.95000000000005 472.4) scale(1.15 1) translate(-274.95000000000005 -472.4)">=</text>
<text x="283.1" y="472.4" font-size="11.8" class="cap">10</text>
<text x="293.7" y="471.9" font-size="11" class="cap">°</text>
<text x="432.1" y="472.4" font-size="11.8" class="cap">(f)</text>
<text x="446.8" y="472.4" font-size="11.8" font-style="italic" class="cap">σ</text>
<text x="460.75" y="472.4" font-size="11.8" text-anchor="middle" class="cap" transform="translate(460.75 472.4) scale(1.15 1) translate(-460.75 -472.4)">=</text>
<text x="468.9" y="472.4" font-size="11.8" class="cap">25</text>
<text x="479.6" y="471.9" font-size="11" class="cap">°</text>
</g>
</svg></body></html>
